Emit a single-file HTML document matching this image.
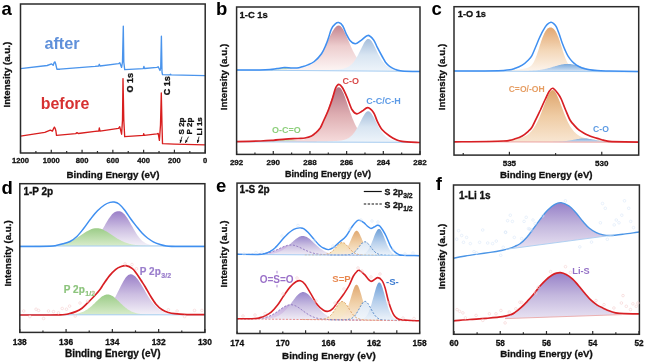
<!DOCTYPE html>
<html><head><meta charset="utf-8"><style>html,body{margin:0;padding:0;background:#fff;overflow:hidden}svg{display:block;will-change:transform}</style></head>
<body><svg width="646" height="363" viewBox="0 0 646 363"><defs><linearGradient id="gRedB" x1="0" y1="0" x2="0" y2="1"><stop offset="0" stop-color="#c4848e"/><stop offset="0.45" stop-color="#edcdce"/><stop offset="1" stop-color="#fdf6f5"/></linearGradient><linearGradient id="gRedB2" x1="0" y1="0" x2="0" y2="1"><stop offset="0" stop-color="#b27484"/><stop offset="0.5" stop-color="#deaeb2"/><stop offset="1" stop-color="#f6dcdc"/></linearGradient><linearGradient id="gBlueB" x1="0" y1="0" x2="0" y2="1"><stop offset="0" stop-color="#a6bedb"/><stop offset="0.5" stop-color="#d8e5f2"/><stop offset="1" stop-color="#eef4fa"/></linearGradient><linearGradient id="gGreen" x1="0" y1="0" x2="0" y2="1"><stop offset="0" stop-color="#a8d498"/><stop offset="1" stop-color="#e4f2dc"/></linearGradient><linearGradient id="gOrangeT" x1="0" y1="0" x2="0" y2="1"><stop offset="0" stop-color="#e2a670"/><stop offset="0.5" stop-color="#f3d6b6"/><stop offset="1" stop-color="#fdf5ee"/></linearGradient><linearGradient id="gOrangeB" x1="0" y1="0" x2="0" y2="1"><stop offset="0" stop-color="#dea46c"/><stop offset="0.5" stop-color="#efcca4"/><stop offset="1" stop-color="#f8e6d2"/></linearGradient><linearGradient id="gBlueC" x1="0" y1="0" x2="0" y2="1"><stop offset="0" stop-color="#78a8dc"/><stop offset="1" stop-color="#d8e6f5"/></linearGradient><linearGradient id="gPurpleD" x1="0" y1="0" x2="0" y2="1"><stop offset="0" stop-color="#9a7fc8"/><stop offset="0.5" stop-color="#cdbfe2"/><stop offset="1" stop-color="#f4f1f8"/></linearGradient><linearGradient id="gGreenD" x1="0" y1="0" x2="0" y2="1"><stop offset="0" stop-color="#9ccc88"/><stop offset="1" stop-color="#d8eccb"/></linearGradient><linearGradient id="gPurpleE" x1="0" y1="0" x2="0" y2="1"><stop offset="0" stop-color="#9886cc"/><stop offset="0.5" stop-color="#cbc0e2"/><stop offset="1" stop-color="#f2eef6"/></linearGradient><linearGradient id="gPurpleE2" x1="0" y1="0" x2="0" y2="1"><stop offset="0" stop-color="#c2aadd"/><stop offset="1" stop-color="#e2d4ee"/></linearGradient><linearGradient id="gOrangeE" x1="0" y1="0" x2="0" y2="1"><stop offset="0" stop-color="#e0a870"/><stop offset="0.5" stop-color="#f0d0a8"/><stop offset="1" stop-color="#faeedd"/></linearGradient><linearGradient id="gOrangeE2" x1="0" y1="0" x2="0" y2="1"><stop offset="0" stop-color="#f2d8a8"/><stop offset="1" stop-color="#f8ecd6"/></linearGradient><linearGradient id="gBlueE" x1="0" y1="0" x2="0" y2="1"><stop offset="0" stop-color="#6c9fd8"/><stop offset="0.5" stop-color="#b8d0ec"/><stop offset="1" stop-color="#eef4fa"/></linearGradient><linearGradient id="gBlueE2" x1="0" y1="0" x2="0" y2="1"><stop offset="0" stop-color="#dde8f4"/><stop offset="1" stop-color="#f2f6fb"/></linearGradient><linearGradient id="gPurpleF" x1="0" y1="0" x2="0" y2="1"><stop offset="0" stop-color="#9680c8"/><stop offset="0.5" stop-color="#c4b8de"/><stop offset="1" stop-color="#e8e2f2"/></linearGradient></defs><rect width="646" height="363" fill="#fff"/>
<text x="1.5" y="14.9" font-size="18.5" fill="#000" stroke="#000" stroke-width="0" text-anchor="start" font-family="Liberation Sans" font-weight="bold">a</text>
<path d="M20.5 68.6L47.2 65.5L51.6 63.9L53.2 65.3L54.3 62.3L55.0 61.9L55.7 64.0L56.9 69.2L60.0 69.2L95.0 66.4L98.7 66.0L99.3 64.3L100.0 66.0L118.5 63.7L119.8 62.7L121.6 67.4L122.5 62.0L123.3 26.1L123.8 62.0L124.7 69.6L143.3 68.6L143.9 66.4L144.5 68.5L156.9 67.4L158.2 66.8L160.0 70.5L160.7 68.0L161.4 36.2L162.0 72.0L162.5 74.6L170.0 74.8L170.5 74.2L171.0 74.8L205.0 75.6" fill="none" stroke="#4a94ec" stroke-width="1.35" stroke-linejoin="round"/>
<path d="M20.5 136.1L44.8 132.3L50.3 130.1L52.4 131.1L53.6 128.5L54.4 127.1L55.2 128.5L55.9 131.0L56.5 135.4L75.7 133.6L77.0 132.6L78.3 133.5L95.0 131.3L98.8 131.0L99.3 128.0L100.0 131.1L118.5 128.4L119.8 126.8L121.6 134.2L122.5 120.0L123.0 78.6L123.8 120.0L124.7 136.7L143.3 135.4L143.7 133.6L144.2 135.3L156.9 133.8L158.2 133.4L159.4 140.4L160.5 125.0L161.3 93.0L162.0 125.0L162.5 143.7L174.3 144.1L205.0 144.8" fill="none" stroke="#d81e1e" stroke-width="1.35" stroke-linejoin="round"/>
<text x="44.4" y="49.0" font-size="16" fill="#5f90da" stroke="#5f90da" stroke-width="0" text-anchor="start" font-family="Liberation Sans" font-weight="bold" textLength="35.2" lengthAdjust="spacingAndGlyphs">after</text>
<text x="40.8" y="109.0" font-size="16" fill="#d63131" stroke="#d63131" stroke-width="0" text-anchor="start" font-family="Liberation Sans" font-weight="bold" textLength="48.6" lengthAdjust="spacingAndGlyphs">before</text>
<text x="133.2" y="92.6" font-size="9" fill="#111" stroke="#111" stroke-width="0.3" text-anchor="start" font-family="Liberation Sans" font-weight="bold" transform="rotate(-90 133.2 92.6)">O 1s</text>
<text x="170.0" y="95.3" font-size="9" fill="#111" stroke="#111" stroke-width="0.3" text-anchor="start" font-family="Liberation Sans" font-weight="bold" transform="rotate(-90 170.0 95.3)">C 1s</text>
<text x="184.5" y="134.4" font-size="8.0" fill="#111" stroke="#111" stroke-width="0.3" text-anchor="start" font-family="Liberation Sans" font-weight="bold" transform="rotate(-90 184.5 134.4)">S 2p</text>
<text x="191.6" y="134.4" font-size="8.0" fill="#111" stroke="#111" stroke-width="0.3" text-anchor="start" font-family="Liberation Sans" font-weight="bold" transform="rotate(-90 191.6 134.4)">P 2p</text>
<text x="201.6" y="135.4" font-size="8.0" fill="#111" stroke="#111" stroke-width="0.3" text-anchor="start" font-family="Liberation Sans" font-weight="bold" transform="rotate(-90 201.6 135.4)">Li 1s</text>
<line x1="182.0" y1="136.6" x2="180.1" y2="143.0" stroke="#111" stroke-width="0.8"/>
<path d="M180.10,143.00L179.71,139.75L182.20,140.49Z" fill="#111"/>
<line x1="188.6" y1="136.6" x2="185.3" y2="143.0" stroke="#111" stroke-width="0.8"/>
<path d="M185.30,143.00L185.52,139.74L187.83,140.93Z" fill="#111"/>
<line x1="199.0" y1="136.6" x2="197.5" y2="143.0" stroke="#111" stroke-width="0.8"/>
<path d="M197.50,143.00L196.92,139.78L199.45,140.38Z" fill="#111"/>
<rect x="20.5" y="4.0" width="184.70" height="149.00" fill="none" stroke="#2b2b2b" stroke-width="1.5"/>
<line x1="20.50" y1="153.0" x2="20.50" y2="149.7" stroke="#2b2b2b" stroke-width="1.2"/>
<line x1="35.89" y1="153.0" x2="35.89" y2="151.0" stroke="#2b2b2b" stroke-width="1.2"/>
<line x1="51.28" y1="153.0" x2="51.28" y2="149.7" stroke="#2b2b2b" stroke-width="1.2"/>
<line x1="66.67" y1="153.0" x2="66.67" y2="151.0" stroke="#2b2b2b" stroke-width="1.2"/>
<line x1="82.07" y1="153.0" x2="82.07" y2="149.7" stroke="#2b2b2b" stroke-width="1.2"/>
<line x1="97.46" y1="153.0" x2="97.46" y2="151.0" stroke="#2b2b2b" stroke-width="1.2"/>
<line x1="112.85" y1="153.0" x2="112.85" y2="149.7" stroke="#2b2b2b" stroke-width="1.2"/>
<line x1="128.24" y1="153.0" x2="128.24" y2="151.0" stroke="#2b2b2b" stroke-width="1.2"/>
<line x1="143.63" y1="153.0" x2="143.63" y2="149.7" stroke="#2b2b2b" stroke-width="1.2"/>
<line x1="159.02" y1="153.0" x2="159.02" y2="151.0" stroke="#2b2b2b" stroke-width="1.2"/>
<line x1="174.42" y1="153.0" x2="174.42" y2="149.7" stroke="#2b2b2b" stroke-width="1.2"/>
<line x1="189.81" y1="153.0" x2="189.81" y2="151.0" stroke="#2b2b2b" stroke-width="1.2"/>
<line x1="205.20" y1="153.0" x2="205.20" y2="149.7" stroke="#2b2b2b" stroke-width="1.2"/>
<text x="20.50" y="163.0" font-size="7.6" fill="#111" stroke="#111" stroke-width="0.3" text-anchor="middle" font-family="Liberation Sans" font-weight="bold">1200</text>
<text x="51.28" y="163.0" font-size="7.6" fill="#111" stroke="#111" stroke-width="0.3" text-anchor="middle" font-family="Liberation Sans" font-weight="bold">1000</text>
<text x="82.07" y="163.0" font-size="7.6" fill="#111" stroke="#111" stroke-width="0.3" text-anchor="middle" font-family="Liberation Sans" font-weight="bold">800</text>
<text x="112.85" y="163.0" font-size="7.6" fill="#111" stroke="#111" stroke-width="0.3" text-anchor="middle" font-family="Liberation Sans" font-weight="bold">600</text>
<text x="143.63" y="163.0" font-size="7.6" fill="#111" stroke="#111" stroke-width="0.3" text-anchor="middle" font-family="Liberation Sans" font-weight="bold">400</text>
<text x="174.42" y="163.0" font-size="7.6" fill="#111" stroke="#111" stroke-width="0.3" text-anchor="middle" font-family="Liberation Sans" font-weight="bold">200</text>
<text x="205.20" y="163.0" font-size="7.6" fill="#111" stroke="#111" stroke-width="0.3" text-anchor="middle" font-family="Liberation Sans" font-weight="bold">0</text>
<text x="113" y="177.6" font-size="9.75" fill="#111" stroke="#111" stroke-width="0.3" text-anchor="middle" font-family="Liberation Sans" font-weight="bold">Binding Energy (eV)</text>
<text x="10.3" y="74.7" font-size="9.7" fill="#111" stroke="#111" stroke-width="0.3" text-anchor="middle" font-family="Liberation Sans" font-weight="bold" transform="rotate(-90 10.3 74.7)">Intensity (a.u.)</text>
<text x="216.0" y="14.8" font-size="18.5" fill="#000" stroke="#000" stroke-width="0" text-anchor="start" font-family="Liberation Sans" font-weight="bold">b</text>
<text x="239.6" y="18.0" font-size="9.4" fill="#111" stroke="#111" stroke-width="0.3" text-anchor="start" font-family="Liberation Sans" font-weight="bold">1-C 1s</text>
<path d="M260.0 70.2L260.7 70.2L261.5 70.2L262.2 70.2L263.0 70.2L263.7 70.2L264.5 70.1L265.2 70.1L266.0 70.1L266.7 70.1L267.5 70.0L268.2 70.0L269.0 69.9L269.7 69.9L270.4 69.8L271.2 69.7L271.9 69.6L272.7 69.5L273.4 69.4L274.2 69.3L274.9 69.2L275.7 69.1L276.4 69.0L277.2 68.9L277.9 68.8L278.7 68.7L279.4 68.6L280.1 68.5L280.9 68.4L281.6 68.3L282.4 68.2L283.1 68.2L283.9 68.2L284.6 68.1L285.4 68.1L286.1 68.2L286.9 68.2L287.6 68.3L288.4 68.3L289.1 68.4L289.9 68.5L290.6 68.6L291.3 68.8L292.1 68.9L292.8 69.0L293.6 69.1L294.3 69.3L295.1 69.4L295.8 69.5L296.6 69.6L297.3 69.7L298.1 69.8L298.8 69.9L299.6 70.0L300.3 70.1L301.0 70.1L301.8 70.2L302.5 70.3L303.3 70.3L304.0 70.4L304.8 70.4L305.5 70.4L306.3 70.5L307.0 70.5L307.8 70.5L308.5 70.5L309.3 70.5L310.0 70.6L310.0 70.6L260.0 70.3Z" fill="url(#gGreen)"/>
<path d="M266.2 69.6L267.0 69.6L267.7 69.6L268.5 69.6L269.2 69.6L270.0 69.6L270.7 69.6L271.5 69.5L272.2 69.5L273.0 69.5L273.7 69.5L274.5 69.5L275.2 69.5L276.0 69.5L276.7 69.4L277.5 69.4L278.2 69.4L279.0 69.4L279.7 69.4L280.5 69.4L281.2 69.3L282.0 69.3L282.7 69.3L283.5 69.3L284.2 69.2L285.0 69.2L285.7 69.2L286.5 69.2L287.2 69.1L288.0 69.1L288.7 69.1L289.5 69.0L290.2 69.0L291.0 68.9L291.7 68.9L292.5 68.8L293.2 68.8L294.0 68.7L294.8 68.7L295.5 68.6L296.3 68.6L297.0 68.5L297.8 68.4L298.5 68.3L299.3 68.2L300.0 68.1L300.8 68.0L301.5 67.9L302.3 67.7L303.0 67.6L303.8 67.4L304.5 67.2L305.3 67.0L306.0 66.8L306.8 66.6L307.5 66.3L308.3 66.0L309.0 65.6L309.8 65.3L310.5 64.8L311.3 64.4L312.0 63.9L312.8 63.4L313.5 62.8L314.3 62.1L315.0 61.4L315.8 60.7L316.5 59.8L317.3 59.0L318.0 58.0L318.8 57.0L319.5 56.0L320.3 54.9L321.0 53.7L321.8 52.4L322.6 51.1L323.3 49.8L324.1 48.3L324.8 46.9L325.6 45.4L326.3 43.9L327.1 42.3L327.8 40.8L328.6 39.2L329.3 37.7L330.1 36.1L330.8 34.6L331.6 33.2L332.3 31.8L333.1 30.6L333.8 29.4L334.6 28.3L335.3 27.4L336.1 26.7L336.8 26.1L337.6 25.7L338.3 25.5L339.1 25.6L339.8 25.8L340.6 26.3L341.3 27.0L342.1 28.0L342.8 29.1L343.6 30.3L344.3 31.8L345.1 33.3L345.8 34.9L346.6 36.6L347.3 38.3L348.1 40.1L348.9 41.8L349.6 43.6L350.4 45.3L351.1 47.0L351.9 48.6L352.6 50.2L353.4 51.7L354.1 53.1L354.9 54.5L355.6 55.8L356.4 57.0L357.1 58.2L357.9 59.2L358.6 60.2L359.4 61.1L360.1 62.0L360.9 62.7L361.6 63.4L362.4 64.1L363.1 64.6L363.9 65.2L364.6 65.6L365.4 66.1L366.1 66.5L366.9 66.8L367.6 67.1L368.4 67.4L369.1 67.6L369.9 67.9L370.6 68.1L371.4 68.2L372.1 68.4L372.9 68.6L373.6 68.7L374.4 68.8L375.1 68.9L375.9 69.0L376.7 69.1L377.4 69.2L378.2 69.3L378.9 69.4L379.7 69.4L380.4 69.5L381.2 69.6L381.9 69.6L382.7 69.7L383.4 69.7L384.2 69.8L384.9 69.8L385.7 69.9L386.4 69.9L387.2 69.9L387.9 70.0L388.7 70.0L389.4 70.1L390.2 70.1L390.9 70.1L391.7 70.2L392.4 70.2L393.2 70.2L393.9 70.3L394.7 70.3L395.4 70.3L396.2 70.3L396.9 70.4L397.7 70.4L398.4 70.4L399.2 70.5L399.9 70.5L400.7 70.5L401.4 70.5L402.2 70.5L402.9 70.6L403.7 70.6L403.7 71.3L266.2 70.3Z" fill="url(#gRedB)"/>
<path d="M316.9 70.2L317.7 70.2L318.4 70.2L319.2 70.1L319.9 70.1L320.7 70.1L321.4 70.1L322.2 70.1L322.9 70.1L323.7 70.1L324.4 70.1L325.2 70.0L325.9 70.0L326.7 70.0L327.4 70.0L328.2 70.0L328.9 69.9L329.7 69.9L330.4 69.9L331.2 69.9L331.9 69.8L332.7 69.8L333.4 69.8L334.2 69.7L334.9 69.7L335.7 69.6L336.4 69.6L337.2 69.5L338.0 69.5L338.7 69.4L339.5 69.3L340.2 69.2L341.0 69.1L341.7 69.0L342.5 68.9L343.2 68.7L344.0 68.5L344.7 68.3L345.5 68.1L346.2 67.8L347.0 67.5L347.7 67.1L348.5 66.7L349.2 66.3L350.0 65.7L350.7 65.1L351.5 64.5L352.2 63.7L353.0 62.9L353.7 61.9L354.5 60.9L355.2 59.8L356.0 58.6L356.7 57.3L357.5 56.0L358.3 54.6L359.0 53.1L359.8 51.6L360.5 50.0L361.3 48.4L362.0 46.9L362.8 45.4L363.5 44.0L364.3 42.6L365.0 41.5L365.8 40.5L366.5 39.7L367.3 39.1L368.0 38.9L368.8 38.9L369.5 39.2L370.3 39.7L371.0 40.5L371.8 41.5L372.5 42.7L373.3 44.0L374.0 45.5L374.8 47.0L375.5 48.5L376.3 50.1L377.0 51.7L377.8 53.2L378.5 54.7L379.3 56.1L380.1 57.5L380.8 58.8L381.6 60.0L382.3 61.1L383.1 62.1L383.8 63.1L384.6 63.9L385.3 64.7L386.1 65.4L386.8 66.0L387.6 66.5L388.3 67.0L389.1 67.4L389.8 67.8L390.6 68.1L391.3 68.4L392.1 68.7L392.8 68.9L393.6 69.1L394.3 69.2L395.1 69.4L395.8 69.5L396.6 69.6L397.3 69.7L398.1 69.8L398.8 69.9L399.6 70.0L400.4 70.0L401.1 70.1L401.9 70.1L402.6 70.2L403.4 70.2L404.1 70.3L404.9 70.3L405.6 70.4L406.4 70.4L407.1 70.5L407.9 70.5L408.6 70.5L409.4 70.6L410.1 70.6L410.9 70.6L411.6 70.6L412.4 70.7L413.1 70.7L413.9 70.7L414.6 70.8L415.4 70.8L416.1 70.8L416.9 70.8L417.6 70.8L418.4 70.9L419.1 70.9L419.9 70.9L419.9 71.4L316.9 70.7Z" fill="url(#gBlueB)"/>
<path d="M236.6 70.1L420 71.4" fill="none" stroke="#a6cdf2" stroke-width="1"/>
<path d="M236.6 70.0C240.5 70.0 254.4 70.1 260.0 70.0C265.6 69.9 267.2 69.8 270.0 69.6C272.8 69.4 274.6 68.9 277.0 68.6C279.4 68.3 282.1 67.7 284.4 67.6C286.7 67.5 288.9 67.9 291.0 68.0C293.1 68.1 295.2 68.2 297.0 68.0C298.8 67.8 300.3 67.3 302.0 66.8C303.7 66.3 305.1 66.0 307.2 65.1C309.2 64.2 311.9 63.4 314.3 61.5C316.7 59.6 319.6 56.4 321.5 53.7C323.4 51.0 324.6 47.9 325.8 45.1C327.0 42.4 327.8 39.9 328.7 37.2C329.6 34.5 330.4 31.0 331.5 28.8C332.6 26.6 334.1 24.8 335.3 23.8C336.5 22.8 337.6 22.2 338.8 22.6C340.1 23.0 341.6 24.1 342.8 26.0C344.0 27.9 345.0 31.4 346.2 33.8C347.4 36.2 348.5 38.8 350.0 40.5C351.5 42.2 353.4 43.8 355.3 43.8C357.2 43.8 359.0 41.7 361.1 40.3C363.2 38.9 365.8 35.5 367.9 35.4C370.0 35.3 371.9 37.7 373.5 39.7C375.1 41.7 375.8 44.4 377.2 47.2C378.6 50.0 380.8 54.0 382.2 56.5C383.6 59.0 384.3 60.6 385.5 62.3C386.7 63.9 387.9 65.2 389.6 66.4C391.3 67.6 393.7 68.8 395.8 69.6C397.9 70.3 398.0 70.6 402.0 70.9C406.0 71.2 417.0 71.5 420.0 71.6" fill="none" stroke="#3f8ff0" stroke-width="1.55" stroke-linejoin="round"/>
<path d="M236.6 141.8L237.3 141.8L238.1 141.8L238.8 141.8L239.6 141.8L240.3 141.8L241.1 141.8L241.8 141.8L242.6 141.8L243.3 141.8L244.1 141.8L244.8 141.8L245.6 141.8L246.3 141.8L247.1 141.8L247.8 141.8L248.6 141.8L249.3 141.8L250.1 141.8L250.8 141.8L251.6 141.8L252.3 141.8L253.0 141.8L253.8 141.8L254.5 141.8L255.3 141.8L256.0 141.8L256.8 141.7L257.5 141.7L258.3 141.7L259.0 141.7L259.8 141.7L260.5 141.7L261.3 141.7L262.0 141.7L262.8 141.7L263.5 141.6L264.3 141.6L265.0 141.6L265.8 141.6L266.5 141.5L267.3 141.5L268.0 141.4L268.7 141.4L269.5 141.3L270.2 141.3L271.0 141.2L271.7 141.1L272.5 141.1L273.2 141.0L274.0 140.9L274.7 140.8L275.5 140.7L276.2 140.6L277.0 140.5L277.7 140.4L278.5 140.3L279.2 140.2L280.0 140.1L280.7 140.0L281.5 139.9L282.2 139.8L283.0 139.7L283.7 139.6L284.4 139.5L285.2 139.5L285.9 139.4L286.7 139.4L287.4 139.4L288.2 139.4L288.9 139.4L289.7 139.4L290.4 139.5L291.2 139.5L291.9 139.6L292.7 139.7L293.4 139.8L294.2 139.9L294.9 140.0L295.7 140.1L296.4 140.2L297.2 140.3L297.9 140.4L298.7 140.5L299.4 140.6L300.2 140.7L300.9 140.8L301.6 140.9L302.4 141.0L303.1 141.1L303.9 141.2L304.6 141.3L305.4 141.3L306.1 141.4L306.9 141.5L307.6 141.5L308.4 141.6L309.1 141.6L309.9 141.7L310.6 141.7L311.4 141.8L312.1 141.8L312.9 141.8L313.6 141.8L314.4 141.9L315.1 141.9L315.9 141.9L316.6 141.9L317.3 141.9L318.1 141.9L318.8 141.9L319.6 142.0L320.3 142.0L321.1 142.0L321.8 142.0L322.6 142.0L323.3 142.0L324.1 142.0L324.8 142.0L325.6 142.0L326.3 142.0L327.1 142.0L327.8 142.0L328.6 142.0L329.3 142.0L330.1 142.0L330.8 142.1L331.6 142.1L332.3 142.1L333.0 142.1L333.8 142.1L334.5 142.1L335.3 142.1L336.0 142.1L336.8 142.1L337.5 142.1L338.3 142.1L339.0 142.1L339.8 142.1L340.5 142.1L341.3 142.1L342.0 142.1L342.8 142.1L343.5 142.1L344.3 142.1L345.0 142.1L345.8 142.1L346.5 142.1L347.3 142.1L348.0 142.1L348.0 142.2L236.6 141.8Z" fill="url(#gGreen)"/>
<path d="M276.1 141.1L276.8 141.1L277.6 141.0L278.3 141.0L279.1 141.0L279.8 141.0L280.6 141.0L281.3 140.9L282.1 140.9L282.8 140.9L283.6 140.9L284.3 140.8L285.1 140.8L285.8 140.8L286.6 140.8L287.3 140.7L288.1 140.7L288.8 140.7L289.6 140.6L290.3 140.6L291.1 140.6L291.8 140.5L292.6 140.5L293.3 140.4L294.1 140.4L294.8 140.3L295.6 140.3L296.3 140.2L297.1 140.2L297.8 140.1L298.6 140.0L299.3 139.9L300.1 139.9L300.8 139.8L301.5 139.7L302.3 139.6L303.0 139.5L303.8 139.4L304.5 139.2L305.3 139.1L306.0 138.9L306.8 138.7L307.5 138.5L308.3 138.3L309.0 138.0L309.8 137.7L310.5 137.4L311.3 137.0L312.0 136.6L312.8 136.2L313.5 135.6L314.3 135.1L315.0 134.4L315.8 133.7L316.5 132.9L317.3 132.1L318.0 131.1L318.8 130.1L319.5 128.9L320.3 127.7L321.0 126.3L321.8 124.9L322.5 123.3L323.3 121.7L324.0 120.0L324.8 118.1L325.5 116.2L326.2 114.2L327.0 112.1L327.7 110.0L328.5 107.8L329.2 105.6L330.0 103.4L330.7 101.3L331.5 99.1L332.2 97.1L333.0 95.1L333.7 93.3L334.5 91.7L335.2 90.2L336.0 89.0L336.7 88.1L337.5 87.5L338.2 87.2L339.0 87.2L339.7 87.5L340.5 88.1L341.2 89.1L342.0 90.3L342.7 91.7L343.5 93.3L344.2 95.2L345.0 97.1L345.7 99.2L346.5 101.3L347.2 103.5L348.0 105.7L348.7 107.9L349.5 110.1L350.2 112.2L351.0 114.3L351.7 116.3L352.4 118.2L353.2 120.0L353.9 121.8L354.7 123.4L355.4 125.0L356.2 126.4L356.9 127.8L357.7 129.0L358.4 130.2L359.2 131.2L359.9 132.2L360.7 133.1L361.4 133.9L362.2 134.6L362.9 135.2L363.7 135.8L364.4 136.3L365.2 136.8L365.9 137.2L366.7 137.6L367.4 137.9L368.2 138.2L368.9 138.5L369.7 138.7L370.4 138.9L371.2 139.1L371.9 139.3L372.7 139.4L373.4 139.6L374.2 139.7L374.9 139.8L375.7 139.9L376.4 140.0L377.1 140.1L377.9 140.2L378.6 140.3L379.4 140.4L380.1 140.4L380.9 140.5L381.6 140.6L382.4 140.6L383.1 140.7L383.9 140.7L384.6 140.8L385.4 140.8L386.1 140.9L386.9 140.9L387.6 141.0L388.4 141.0L389.1 141.0L389.9 141.1L390.6 141.1L391.4 141.1L392.1 141.2L392.9 141.2L393.6 141.2L394.4 141.3L395.1 141.3L395.9 141.3L396.6 141.3L397.4 141.4L398.1 141.4L398.9 141.4L399.6 141.4L400.4 141.5L401.1 141.5L401.1 142.3L276.1 141.9Z" fill="url(#gRedB2)"/>
<path d="M316.7 141.6L317.5 141.6L318.2 141.6L319.0 141.5L319.7 141.5L320.5 141.5L321.2 141.5L322.0 141.5L322.7 141.5L323.5 141.5L324.2 141.4L325.0 141.4L325.7 141.4L326.5 141.4L327.2 141.4L328.0 141.3L328.7 141.3L329.5 141.3L330.2 141.3L331.0 141.2L331.7 141.2L332.5 141.2L333.2 141.1L334.0 141.1L334.7 141.0L335.5 141.0L336.2 140.9L337.0 140.9L337.8 140.8L338.5 140.7L339.3 140.7L340.0 140.6L340.8 140.5L341.5 140.4L342.3 140.2L343.0 140.1L343.8 139.9L344.5 139.7L345.3 139.5L346.0 139.2L346.8 138.9L347.5 138.6L348.3 138.2L349.0 137.7L349.8 137.2L350.5 136.6L351.3 136.0L352.0 135.2L352.8 134.4L353.5 133.5L354.3 132.5L355.0 131.5L355.8 130.3L356.5 129.1L357.3 127.8L358.1 126.4L358.8 125.0L359.6 123.5L360.3 122.0L361.1 120.5L361.8 119.0L362.6 117.6L363.3 116.2L364.1 114.9L364.8 113.8L365.6 112.8L366.3 112.0L367.1 111.5L367.8 111.3L368.6 111.3L369.3 111.5L370.1 112.1L370.8 112.8L371.6 113.8L372.3 114.9L373.1 116.2L373.8 117.6L374.6 119.1L375.3 120.6L376.1 122.1L376.8 123.6L377.6 125.0L378.3 126.5L379.1 127.9L379.9 129.2L380.6 130.4L381.4 131.6L382.1 132.6L382.9 133.6L383.6 134.5L384.4 135.3L385.1 136.1L385.9 136.7L386.6 137.3L387.4 137.8L388.1 138.3L388.9 138.7L389.6 139.0L390.4 139.4L391.1 139.6L391.9 139.9L392.6 140.1L393.4 140.2L394.1 140.4L394.9 140.5L395.6 140.7L396.4 140.8L397.1 140.9L397.9 140.9L398.6 141.0L399.4 141.1L400.2 141.1L400.9 141.2L401.7 141.3L402.4 141.3L403.2 141.3L403.9 141.4L404.7 141.4L405.4 141.5L406.2 141.5L406.9 141.5L407.7 141.6L408.4 141.6L409.2 141.6L409.9 141.7L410.7 141.7L411.4 141.7L412.2 141.7L412.9 141.8L413.7 141.8L414.4 141.8L415.2 141.8L415.9 141.8L416.7 141.9L417.4 141.9L418.2 141.9L418.9 141.9L419.7 141.9L419.7 142.4L316.7 142.1Z" fill="url(#gBlueB)"/>
<path d="M236.6 141.8L420 142.4" fill="none" stroke="#a6cdf2" stroke-width="1"/>
<path d="M236.6 141.6C240.6 141.5 254.7 141.2 260.8 141.0C266.9 140.8 269.1 140.6 273.2 140.3C277.3 140.0 281.5 139.4 285.6 139.1C289.7 138.8 294.8 138.7 298.0 138.5C301.2 138.3 302.7 138.4 305.0 138.0C307.3 137.6 309.8 136.9 311.6 136.0C313.4 135.1 314.6 133.9 316.0 132.6C317.4 131.3 318.9 129.9 320.2 128.0C321.4 126.1 322.1 124.0 323.5 121.0C324.9 118.0 326.9 113.7 328.4 110.0C329.9 106.3 331.1 102.7 332.3 99.0C333.5 95.3 334.5 90.4 335.6 88.0C336.7 85.6 337.8 84.5 338.9 84.4C340.0 84.3 340.9 85.3 342.3 87.5C343.7 89.7 345.5 93.7 347.1 97.4C348.7 101.1 350.5 107.1 352.1 109.8C353.7 112.5 355.1 113.6 356.8 113.8C358.5 114.0 360.4 112.1 362.2 111.1C364.0 110.1 365.9 107.4 367.8 107.6C369.7 107.8 371.9 110.2 373.5 112.4C375.1 114.7 375.8 118.2 377.2 121.1C378.6 124.0 380.1 127.3 382.2 129.8C384.3 132.3 387.3 134.4 389.6 136.0C391.9 137.6 393.7 138.6 395.8 139.5C397.9 140.4 398.0 140.8 402.0 141.3C406.0 141.8 417.0 142.3 420.0 142.5" fill="none" stroke="#d81f24" stroke-width="1.7" stroke-linejoin="round"/>
<text x="350.8" y="83.8" font-size="9.0" fill="#d84848" stroke="#d84848" stroke-width="0" text-anchor="middle" font-family="Liberation Sans" font-weight="bold">C-O</text>
<text x="383.6" y="103.8" font-size="9.0" fill="#5c9ae6" stroke="#5c9ae6" stroke-width="0" text-anchor="middle" font-family="Liberation Sans" font-weight="bold">C-C/C-H</text>
<text x="286.4" y="133.2" font-size="9.0" fill="#8ccf7a" stroke="#8ccf7a" stroke-width="0" text-anchor="middle" font-family="Liberation Sans" font-weight="bold">O-C=O</text>
<rect x="236.6" y="7.0" width="183.40" height="147.40" fill="none" stroke="#2b2b2b" stroke-width="1.5"/>
<line x1="236.60" y1="154.4" x2="236.60" y2="151.1" stroke="#2b2b2b" stroke-width="1.2"/>
<line x1="254.94" y1="154.4" x2="254.94" y2="152.4" stroke="#2b2b2b" stroke-width="1.2"/>
<line x1="273.28" y1="154.4" x2="273.28" y2="151.1" stroke="#2b2b2b" stroke-width="1.2"/>
<line x1="291.62" y1="154.4" x2="291.62" y2="152.4" stroke="#2b2b2b" stroke-width="1.2"/>
<line x1="309.96" y1="154.4" x2="309.96" y2="151.1" stroke="#2b2b2b" stroke-width="1.2"/>
<line x1="328.30" y1="154.4" x2="328.30" y2="152.4" stroke="#2b2b2b" stroke-width="1.2"/>
<line x1="346.64" y1="154.4" x2="346.64" y2="151.1" stroke="#2b2b2b" stroke-width="1.2"/>
<line x1="364.98" y1="154.4" x2="364.98" y2="152.4" stroke="#2b2b2b" stroke-width="1.2"/>
<line x1="383.32" y1="154.4" x2="383.32" y2="151.1" stroke="#2b2b2b" stroke-width="1.2"/>
<line x1="401.66" y1="154.4" x2="401.66" y2="152.4" stroke="#2b2b2b" stroke-width="1.2"/>
<line x1="420.00" y1="154.4" x2="420.00" y2="151.1" stroke="#2b2b2b" stroke-width="1.2"/>
<text x="236.60" y="165.0" font-size="8.0" fill="#111" stroke="#111" stroke-width="0.3" text-anchor="middle" font-family="Liberation Sans" font-weight="bold">292</text>
<text x="273.28" y="165.0" font-size="8.0" fill="#111" stroke="#111" stroke-width="0.3" text-anchor="middle" font-family="Liberation Sans" font-weight="bold">290</text>
<text x="309.96" y="165.0" font-size="8.0" fill="#111" stroke="#111" stroke-width="0.3" text-anchor="middle" font-family="Liberation Sans" font-weight="bold">288</text>
<text x="346.64" y="165.0" font-size="8.0" fill="#111" stroke="#111" stroke-width="0.3" text-anchor="middle" font-family="Liberation Sans" font-weight="bold">286</text>
<text x="383.32" y="165.0" font-size="8.0" fill="#111" stroke="#111" stroke-width="0.3" text-anchor="middle" font-family="Liberation Sans" font-weight="bold">284</text>
<text x="420.00" y="165.0" font-size="8.0" fill="#111" stroke="#111" stroke-width="0.3" text-anchor="middle" font-family="Liberation Sans" font-weight="bold">282</text>
<text x="327.9" y="176.5" font-size="9.0" fill="#111" stroke="#111" stroke-width="0.3" text-anchor="middle" font-family="Liberation Sans" font-weight="bold">Binding Energy (eV)</text>
<text x="227.4" y="77.0" font-size="9.8" fill="#111" stroke="#111" stroke-width="0.3" text-anchor="middle" font-family="Liberation Sans" font-weight="bold" transform="rotate(-90 227.4 77.0)">Intensity (a.u.)</text>
<text x="431.5" y="15.1" font-size="18.5" fill="#000" stroke="#000" stroke-width="0" text-anchor="start" font-family="Liberation Sans" font-weight="bold">c</text>
<text x="457.8" y="17.3" font-size="9.2" fill="#111" stroke="#111" stroke-width="0.3" text-anchor="start" font-family="Liberation Sans" font-weight="bold">1-O 1s</text>
<path d="M491.0 70.6L491.7 70.6L492.5 70.5L493.2 70.5L494.0 70.5L494.7 70.5L495.5 70.5L496.2 70.5L497.0 70.5L497.7 70.4L498.5 70.4L499.2 70.4L500.0 70.4L500.7 70.4L501.5 70.3L502.2 70.3L503.0 70.3L503.7 70.3L504.5 70.3L505.2 70.2L506.0 70.2L506.7 70.2L507.5 70.1L508.2 70.1L509.0 70.1L509.7 70.0L510.5 70.0L511.2 70.0L512.0 69.9L512.7 69.9L513.5 69.8L514.2 69.8L514.9 69.7L515.7 69.7L516.4 69.6L517.2 69.5L517.9 69.5L518.7 69.4L519.4 69.3L520.2 69.2L520.9 69.1L521.7 69.0L522.4 68.9L523.2 68.8L523.9 68.7L524.7 68.6L525.4 68.4L526.2 68.3L526.9 68.1L527.7 67.8L528.4 67.5L529.2 67.1L529.9 66.7L530.7 66.1L531.4 65.4L532.2 64.5L532.9 63.5L533.7 62.2L534.4 60.8L535.2 59.1L535.9 57.2L536.7 55.2L537.4 53.0L538.2 50.8L538.9 48.4L539.6 46.1L540.4 43.7L541.1 41.4L541.9 39.3L542.6 37.2L543.4 35.4L544.1 33.7L544.9 32.2L545.6 30.9L546.4 29.9L547.1 29.0L547.9 28.3L548.6 27.9L549.4 27.6L550.1 27.4L550.9 27.4L551.6 27.6L552.4 27.9L553.1 28.4L553.9 29.0L554.6 29.9L555.4 31.0L556.1 32.3L556.9 33.7L557.6 35.4L558.4 37.3L559.1 39.3L559.9 41.5L560.6 43.8L561.4 46.2L562.1 48.5L562.8 50.9L563.6 53.2L564.3 55.3L565.1 57.4L565.8 59.2L566.6 60.9L567.3 62.4L568.1 63.6L568.8 64.7L569.6 65.6L570.3 66.3L571.1 66.9L571.8 67.3L572.6 67.7L573.3 68.0L574.1 68.3L574.8 68.5L575.6 68.7L576.3 68.8L577.1 68.9L577.8 69.1L578.6 69.2L579.3 69.3L580.1 69.4L580.8 69.5L581.6 69.6L582.3 69.7L583.1 69.7L583.8 69.8L584.6 69.9L585.3 70.0L586.1 70.0L586.8 70.1L587.5 70.1L588.3 70.2L589.0 70.2L589.8 70.3L590.5 70.3L591.3 70.4L592.0 70.4L592.8 70.5L593.5 70.5L594.3 70.5L595.0 70.6L595.8 70.6L596.5 70.7L597.3 70.7L598.0 70.7L598.8 70.7L599.5 70.8L600.3 70.8L601.0 70.8L601.8 70.9L602.5 70.9L603.3 70.9L604.0 70.9L604.8 70.9L605.5 71.0L606.3 71.0L607.0 71.0L607.8 71.0L608.5 71.0L609.3 71.1L610.0 71.1L610.0 71.7L491.0 71.2Z" fill="url(#gOrangeT)"/>
<path d="M523.3 71.0L524.0 71.0L524.8 71.0L525.5 71.0L526.3 70.9L527.0 70.9L527.8 70.9L528.5 70.9L529.3 70.8L530.0 70.8L530.8 70.8L531.5 70.7L532.3 70.7L533.0 70.6L533.8 70.6L534.5 70.5L535.3 70.5L536.0 70.4L536.8 70.3L537.5 70.2L538.3 70.1L539.0 70.1L539.8 69.9L540.5 69.8L541.3 69.7L542.0 69.6L542.8 69.5L543.5 69.3L544.3 69.2L545.0 69.0L545.8 68.8L546.5 68.7L547.3 68.5L548.0 68.3L548.8 68.1L549.5 67.9L550.3 67.7L551.0 67.5L551.8 67.3L552.5 67.0L553.3 66.8L554.0 66.6L554.8 66.4L555.5 66.1L556.3 65.9L557.0 65.7L557.8 65.5L558.5 65.3L559.3 65.1L560.0 64.9L560.8 64.7L561.5 64.5L562.3 64.4L563.0 64.3L563.8 64.2L564.5 64.1L565.3 64.0L566.0 63.9L566.8 63.9L567.5 63.9L568.2 63.9L569.0 63.9L569.7 64.0L570.5 64.1L571.2 64.2L572.0 64.3L572.7 64.4L573.5 64.6L574.2 64.8L575.0 65.0L575.7 65.1L576.5 65.4L577.2 65.6L578.0 65.8L578.7 66.0L579.5 66.2L580.2 66.5L581.0 66.7L581.7 66.9L582.5 67.2L583.2 67.4L584.0 67.6L584.7 67.8L585.5 68.0L586.2 68.3L587.0 68.5L587.7 68.7L588.5 68.8L589.2 69.0L590.0 69.2L590.7 69.4L591.5 69.5L592.2 69.7L593.0 69.8L593.7 69.9L594.5 70.1L595.2 70.2L596.0 70.3L596.7 70.4L597.5 70.5L598.2 70.6L599.0 70.7L599.7 70.7L600.5 70.8L601.2 70.9L602.0 70.9L602.7 71.0L603.5 71.0L604.2 71.1L605.0 71.1L605.7 71.2L606.5 71.2L607.2 71.2L608.0 71.3L608.7 71.3L609.5 71.3L610.2 71.3L611.0 71.4L611.7 71.4L611.7 71.7L523.3 71.3Z" fill="url(#gBlueC)"/>
<path d="M454 71.0L638.7 71.8" fill="none" stroke="#a6cdf2" stroke-width="1"/>
<path d="M454.0 71.0C462.3 70.9 493.3 70.9 503.6 70.4C513.9 69.9 512.9 68.9 516.0 68.0C519.1 67.1 520.1 66.5 522.2 65.2C524.3 63.9 526.8 61.6 528.4 60.0C530.0 58.4 530.8 57.6 531.9 55.6C533.0 53.6 534.1 50.6 535.2 48.0C536.3 45.4 537.6 42.2 538.6 39.8C539.6 37.4 540.5 35.5 541.5 33.6C542.5 31.7 543.4 29.8 544.4 28.3C545.4 26.8 546.2 25.4 547.3 24.4C548.4 23.4 549.8 22.4 550.9 22.3C552.0 22.2 552.8 22.8 553.7 23.6C554.6 24.4 555.6 25.4 556.5 27.2C557.4 29.0 558.3 31.7 559.3 34.3C560.2 36.9 561.2 40.3 562.2 42.9C563.2 45.5 564.2 48.0 565.1 50.1C566.0 52.2 566.7 53.9 567.9 55.8C569.1 57.7 570.8 60.0 572.2 61.5C573.6 63.0 574.8 64.0 576.5 65.1C578.2 66.2 580.3 67.3 582.2 68.0C584.1 68.7 585.5 69.0 588.0 69.4C590.5 69.8 593.6 70.2 597.2 70.5C600.8 70.8 602.7 70.8 609.6 71.0C616.5 71.2 633.9 71.5 638.7 71.6" fill="none" stroke="#3f8ff0" stroke-width="1.5" stroke-linejoin="round"/>
<path d="M477.0 141.1L477.7 141.1L478.5 141.0L479.2 141.0L480.0 141.0L480.7 141.0L481.5 141.0L482.2 141.0L483.0 141.0L483.7 140.9L484.5 140.9L485.2 140.9L486.0 140.9L486.7 140.9L487.5 140.8L488.2 140.8L489.0 140.8L489.7 140.8L490.5 140.7L491.2 140.7L492.0 140.7L492.7 140.7L493.5 140.6L494.2 140.6L495.0 140.6L495.7 140.6L496.5 140.5L497.2 140.5L498.0 140.5L498.7 140.4L499.5 140.4L500.2 140.3L501.0 140.3L501.7 140.3L502.4 140.2L503.2 140.2L503.9 140.1L504.7 140.1L505.4 140.0L506.2 139.9L506.9 139.9L507.7 139.8L508.4 139.8L509.2 139.7L509.9 139.6L510.7 139.5L511.4 139.5L512.2 139.4L512.9 139.3L513.7 139.2L514.4 139.1L515.2 139.0L515.9 138.8L516.7 138.7L517.4 138.6L518.2 138.4L518.9 138.3L519.7 138.1L520.4 137.9L521.2 137.7L521.9 137.4L522.7 137.2L523.4 136.9L524.2 136.6L524.9 136.2L525.7 135.8L526.4 135.4L527.2 134.9L527.9 134.4L528.6 133.9L529.4 133.2L530.1 132.5L530.9 131.8L531.6 130.9L532.4 130.0L533.1 129.0L533.9 128.0L534.6 126.8L535.4 125.6L536.1 124.3L536.9 122.8L537.6 121.3L538.4 119.7L539.1 118.0L539.9 116.3L540.6 114.5L541.4 112.6L542.1 110.6L542.9 108.6L543.6 106.6L544.4 104.5L545.1 102.5L545.9 100.6L546.6 98.7L547.4 96.9L548.1 95.2L548.9 93.7L549.6 92.4L550.4 91.4L551.1 90.6L551.9 90.2L552.6 90.0L553.3 90.2L554.1 90.6L554.8 91.4L555.6 92.4L556.3 93.7L557.1 95.2L557.8 96.9L558.6 98.7L559.3 100.6L560.1 102.6L560.8 104.6L561.6 106.6L562.3 108.6L563.1 110.6L563.8 112.6L564.6 114.5L565.3 116.3L566.1 118.1L566.8 119.8L567.6 121.4L568.3 122.9L569.1 124.3L569.8 125.7L570.6 126.9L571.3 128.1L572.1 129.1L572.8 130.1L573.6 131.0L574.3 131.9L575.1 132.6L575.8 133.3L576.6 134.0L577.3 134.5L578.0 135.1L578.8 135.5L579.5 136.0L580.3 136.3L581.0 136.7L581.8 137.0L582.5 137.3L583.3 137.6L584.0 137.8L584.8 138.0L585.5 138.2L586.3 138.4L587.0 138.6L587.8 138.7L588.5 138.9L589.3 139.0L590.0 139.1L590.8 139.2L591.5 139.4L592.3 139.5L593.0 139.5L593.8 139.6L594.5 139.7L595.3 139.8L596.0 139.9L596.8 140.0L597.5 140.0L598.3 140.1L599.0 140.1L599.8 140.2L600.5 140.3L601.3 140.3L602.0 140.4L602.8 140.4L603.5 140.5L604.2 140.5L605.0 140.6L605.7 140.6L606.5 140.6L607.2 140.7L608.0 140.7L608.7 140.8L609.5 140.8L610.2 140.8L611.0 140.9L611.7 140.9L612.5 140.9L613.2 141.0L614.0 141.0L614.7 141.0L615.5 141.0L616.2 141.1L617.0 141.1L617.7 141.1L618.5 141.1L619.2 141.2L620.0 141.2L620.7 141.2L621.5 141.2L622.2 141.3L623.0 141.3L623.7 141.3L624.5 141.3L625.2 141.3L626.0 141.4L626.7 141.4L627.5 141.4L628.2 141.4L628.2 142.2L477.0 141.8Z" fill="url(#gOrangeB)"/>
<path d="M550.2 141.9L551.0 141.9L551.7 141.9L552.5 141.9L553.2 141.8L554.0 141.8L554.7 141.8L555.5 141.8L556.2 141.8L557.0 141.7L557.7 141.7L558.5 141.7L559.2 141.6L560.0 141.6L560.7 141.5L561.5 141.5L562.2 141.4L563.0 141.4L563.7 141.3L564.5 141.2L565.2 141.1L566.0 141.0L566.7 140.9L567.5 140.8L568.2 140.7L569.0 140.6L569.7 140.5L570.5 140.3L571.2 140.2L572.0 140.1L572.7 139.9L573.5 139.8L574.2 139.7L575.0 139.5L575.7 139.4L576.5 139.2L577.2 139.1L578.0 139.0L578.7 138.9L579.5 138.8L580.2 138.7L581.0 138.6L581.7 138.6L582.5 138.5L583.2 138.5L584.0 138.5L584.8 138.5L585.5 138.5L586.3 138.6L587.0 138.6L587.8 138.7L588.5 138.8L589.3 138.9L590.0 139.0L590.8 139.1L591.5 139.3L592.3 139.4L593.0 139.6L593.8 139.7L594.5 139.8L595.3 140.0L596.0 140.1L596.8 140.3L597.5 140.4L598.3 140.5L599.0 140.7L599.8 140.8L600.5 140.9L601.3 141.0L602.0 141.1L602.8 141.2L603.5 141.3L604.3 141.4L605.0 141.5L605.8 141.5L606.5 141.6L607.3 141.6L608.0 141.7L608.8 141.7L609.5 141.8L610.3 141.8L611.0 141.9L611.8 141.9L612.5 141.9L613.3 141.9L614.0 142.0L614.8 142.0L615.5 142.0L616.3 142.0L617.0 142.0L617.8 142.0L617.8 142.2L550.2 142.0Z" fill="url(#gBlueC)"/>
<path d="M454 141.8L638.7 142.2" fill="none" stroke="#eca4a4" stroke-width="1"/>
<path d="M454.0 141.8C462.3 141.7 493.3 141.6 503.6 141.0C513.9 140.4 512.9 139.3 516.0 138.5C519.1 137.7 520.1 137.2 522.2 136.0C524.3 134.8 526.8 132.6 528.4 131.2C530.0 129.8 530.5 129.4 531.6 127.8C532.7 126.2 533.4 124.3 534.9 121.3C536.4 118.3 538.6 113.7 540.4 110.0C542.1 106.3 543.9 102.1 545.4 99.0C546.9 95.9 548.0 93.1 549.2 91.3C550.5 89.5 551.5 87.9 552.9 88.3C554.3 88.7 556.5 91.7 557.9 93.5C559.3 95.3 559.9 96.2 561.2 99.0C562.5 101.8 564.1 106.5 565.6 110.0C567.1 113.5 568.5 117.4 570.0 120.0C571.5 122.6 573.0 123.9 574.5 125.6C576.0 127.3 577.6 129.0 579.1 130.2C580.6 131.4 582.1 132.1 583.6 132.9C585.1 133.7 586.7 134.5 588.2 135.2C589.7 135.9 591.2 136.5 592.7 137.0C594.2 137.5 595.8 138.0 597.3 138.4C598.8 138.8 600.3 139.3 601.8 139.7C603.3 140.1 604.7 140.6 606.4 140.9C608.1 141.2 606.6 141.4 612.0 141.6C617.4 141.8 634.2 142.1 638.7 142.2" fill="none" stroke="#d81f24" stroke-width="1.7" stroke-linejoin="round"/>
<text x="526.7" y="92.2" font-size="8.6" fill="#e69d62" stroke="#e69d62" stroke-width="0" text-anchor="middle" font-family="Liberation Sans" font-weight="bold">C=O/-OH</text>
<text x="601.0" y="131.7" font-size="8.6" fill="#5c9ae3" stroke="#5c9ae3" stroke-width="0" text-anchor="middle" font-family="Liberation Sans" font-weight="bold">C-O</text>
<rect x="454.0" y="6.7" width="184.70" height="148.40" fill="none" stroke="#2b2b2b" stroke-width="1.5"/>
<line x1="509.41" y1="155.1" x2="509.41" y2="151.79999999999998" stroke="#2b2b2b" stroke-width="1.2"/>
<line x1="601.76" y1="155.1" x2="601.76" y2="151.79999999999998" stroke="#2b2b2b" stroke-width="1.2"/>
<line x1="463.24" y1="155.1" x2="463.24" y2="153.1" stroke="#2b2b2b" stroke-width="1.2"/>
<line x1="555.59" y1="155.1" x2="555.59" y2="153.1" stroke="#2b2b2b" stroke-width="1.2"/>
<text x="509.41" y="165.7" font-size="8.0" fill="#111" stroke="#111" stroke-width="0.3" text-anchor="middle" font-family="Liberation Sans" font-weight="bold">535</text>
<text x="601.76" y="165.7" font-size="8.0" fill="#111" stroke="#111" stroke-width="0.3" text-anchor="middle" font-family="Liberation Sans" font-weight="bold">530</text>
<text x="546.3" y="177.6" font-size="9.7" fill="#111" stroke="#111" stroke-width="0.3" text-anchor="middle" font-family="Liberation Sans" font-weight="bold">Binding Energy (eV)</text>
<text x="445.4" y="77.0" font-size="9.8" fill="#111" stroke="#111" stroke-width="0.3" text-anchor="middle" font-family="Liberation Sans" font-weight="bold" transform="rotate(-90 445.4 77.0)">Intensity (a.u.)</text>
<text x="1.5" y="193.7" font-size="18.5" fill="#000" stroke="#000" stroke-width="0" text-anchor="start" font-family="Liberation Sans" font-weight="bold">d</text>
<text x="23.4" y="195.3" font-size="10" fill="#111" stroke="#111" stroke-width="0.3" text-anchor="start" font-family="Liberation Sans" font-weight="bold">1-P 2p</text>
<path d="M40.9 245.9L41.7 245.9L42.4 245.9L43.2 245.9L43.9 245.9L44.7 245.9L45.4 245.8L46.2 245.8L46.9 245.8L47.7 245.8L48.4 245.8L49.2 245.8L49.9 245.8L50.7 245.8L51.4 245.8L52.2 245.8L52.9 245.8L53.7 245.8L54.4 245.8L55.2 245.8L55.9 245.8L56.7 245.8L57.4 245.8L58.2 245.8L58.9 245.8L59.7 245.8L60.4 245.8L61.2 245.8L61.9 245.8L62.7 245.7L63.4 245.7L64.2 245.7L64.9 245.7L65.7 245.7L66.4 245.7L67.2 245.7L67.9 245.7L68.7 245.7L69.4 245.7L70.2 245.7L70.9 245.7L71.7 245.6L72.5 245.6L73.2 245.6L74.0 245.6L74.7 245.6L75.5 245.6L76.2 245.6L77.0 245.5L77.7 245.5L78.5 245.5L79.2 245.4L80.0 245.4L80.7 245.3L81.5 245.3L82.2 245.2L83.0 245.1L83.7 245.0L84.5 244.9L85.2 244.8L86.0 244.6L86.7 244.5L87.5 244.2L88.2 244.0L89.0 243.7L89.7 243.4L90.5 243.0L91.2 242.6L92.0 242.2L92.7 241.6L93.5 241.1L94.2 240.4L95.0 239.7L95.7 238.9L96.5 238.1L97.2 237.2L98.0 236.2L98.7 235.2L99.5 234.1L100.2 233.0L101.0 231.8L101.7 230.6L102.5 229.3L103.3 228.0L104.0 226.7L104.8 225.4L105.5 224.1L106.3 222.8L107.0 221.5L107.8 220.2L108.5 219.1L109.3 217.9L110.0 216.9L110.8 215.9L111.5 215.0L112.3 214.1L113.0 213.4L113.8 212.8L114.5 212.3L115.3 211.9L116.0 211.6L116.8 211.4L117.5 211.2L118.3 211.2L119.0 211.2L119.8 211.3L120.5 211.5L121.3 211.8L122.0 212.2L122.8 212.7L123.5 213.4L124.3 214.1L125.0 214.9L125.8 215.9L126.5 216.9L127.3 218.0L128.0 219.2L128.8 220.4L129.5 221.7L130.3 223.0L131.0 224.4L131.8 225.7L132.6 227.1L133.3 228.4L134.1 229.8L134.8 231.0L135.6 232.3L136.3 233.5L137.1 234.7L137.8 235.8L138.6 236.8L139.3 237.7L140.1 238.6L140.8 239.5L141.6 240.2L142.3 240.9L143.1 241.5L143.8 242.1L144.6 242.6L145.3 243.0L146.1 243.4L146.8 243.7L147.6 244.0L148.3 244.2L149.1 244.5L149.8 244.7L150.6 244.8L151.3 244.9L152.1 245.1L152.8 245.2L153.6 245.2L154.3 245.3L155.1 245.4L155.8 245.4L156.6 245.5L157.3 245.5L158.1 245.5L158.8 245.5L159.6 245.6L160.3 245.6L161.1 245.6L161.8 245.6L162.6 245.6L163.4 245.6L164.1 245.7L164.9 245.7L165.6 245.7L166.4 245.7L167.1 245.7L167.9 245.7L168.6 245.7L169.4 245.7L170.1 245.7L170.9 245.7L171.6 245.7L172.4 245.8L173.1 245.8L173.9 245.8L174.6 245.8L175.4 245.8L176.1 245.8L176.9 245.8L177.6 245.8L178.4 245.8L179.1 245.8L179.9 245.8L180.6 245.8L181.4 245.8L182.1 245.8L182.9 245.8L183.6 245.8L184.4 245.8L185.1 245.8L185.9 245.8L186.6 245.8L187.4 245.8L188.1 245.8L188.9 245.8L189.6 245.9L190.4 245.9L191.1 245.9L191.9 245.9L192.6 245.9L193.4 245.9L193.4 246.0L40.9 246.0Z" fill="url(#gPurpleD)"/>
<path d="M19.8 245.9L20.5 245.9L21.3 245.9L22.0 245.9L22.8 245.9L23.5 245.9L24.3 245.9L25.0 245.9L25.8 245.9L26.5 245.9L27.3 245.9L28.0 245.9L28.8 245.9L29.5 245.9L30.3 245.9L31.0 245.9L31.8 245.9L32.5 245.9L33.3 245.9L34.0 245.9L34.8 245.8L35.5 245.8L36.3 245.8L37.0 245.8L37.8 245.8L38.5 245.8L39.3 245.8L40.0 245.8L40.8 245.8L41.5 245.8L42.3 245.8L43.0 245.8L43.8 245.7L44.5 245.7L45.3 245.7L46.0 245.7L46.8 245.7L47.5 245.7L48.3 245.6L49.0 245.6L49.8 245.6L50.5 245.5L51.3 245.5L52.0 245.5L52.8 245.4L53.5 245.4L54.3 245.3L55.0 245.2L55.8 245.2L56.5 245.1L57.3 245.0L58.0 244.9L58.8 244.8L59.5 244.7L60.3 244.5L61.0 244.4L61.8 244.2L62.5 244.1L63.2 243.9L64.0 243.7L64.7 243.5L65.5 243.3L66.2 243.0L67.0 242.8L67.7 242.5L68.5 242.2L69.2 241.9L70.0 241.6L70.7 241.3L71.5 240.9L72.2 240.5L73.0 240.1L73.7 239.7L74.5 239.3L75.2 238.9L76.0 238.4L76.7 238.0L77.5 237.5L78.2 237.0L79.0 236.5L79.7 236.0L80.5 235.5L81.2 235.0L82.0 234.5L82.7 234.0L83.5 233.5L84.2 233.0L85.0 232.5L85.7 232.1L86.5 231.6L87.2 231.2L88.0 230.8L88.7 230.4L89.5 230.0L90.2 229.7L91.0 229.3L91.7 229.1L92.5 228.8L93.2 228.6L94.0 228.5L94.7 228.3L95.5 228.2L96.2 228.2L97.0 228.2L97.7 228.2L98.5 228.3L99.2 228.5L100.0 228.6L100.7 228.8L101.5 229.1L102.2 229.3L103.0 229.6L103.7 230.0L104.4 230.4L105.2 230.7L105.9 231.2L106.7 231.6L107.4 232.1L108.2 232.5L108.9 233.0L109.7 233.5L110.4 234.0L111.2 234.5L111.9 235.0L112.7 235.5L113.4 236.0L114.2 236.5L114.9 237.0L115.7 237.5L116.4 238.0L117.2 238.4L117.9 238.9L118.7 239.3L119.4 239.7L120.2 240.1L120.9 240.5L121.7 240.9L122.4 241.2L123.2 241.6L123.9 241.9L124.7 242.2L125.4 242.5L126.2 242.8L126.9 243.0L127.7 243.3L128.4 243.5L129.2 243.7L129.9 243.9L130.7 244.1L131.4 244.2L132.2 244.4L132.9 244.5L133.7 244.7L134.4 244.8L135.2 244.9L135.9 245.0L136.7 245.1L137.4 245.1L138.2 245.2L138.9 245.3L139.7 245.3L140.4 245.4L141.2 245.5L141.9 245.5L142.7 245.5L143.4 245.6L144.2 245.6L144.9 245.6L145.7 245.7L146.4 245.7L147.1 245.7L147.9 245.7L148.6 245.7L149.4 245.7L150.1 245.8L150.9 245.8L151.6 245.8L152.4 245.8L153.1 245.8L153.9 245.8L154.6 245.8L155.4 245.8L156.1 245.8L156.9 245.8L157.6 245.8L158.4 245.8L159.1 245.9L159.9 245.9L160.6 245.9L161.4 245.9L162.1 245.9L162.9 245.9L163.6 245.9L164.4 245.9L165.1 245.9L165.9 245.9L166.6 245.9L167.4 245.9L168.1 245.9L168.9 245.9L169.6 245.9L170.4 245.9L171.1 245.9L171.9 245.9L172.6 245.9L173.4 245.9L174.1 245.9L174.9 245.9L175.6 245.9L176.4 245.9L177.1 245.9L177.9 245.9L178.6 245.9L179.4 245.9L180.1 245.9L180.9 245.9L181.6 245.9L182.4 245.9L183.1 245.9L183.9 245.9L184.6 245.9L185.4 245.9L186.1 245.9L186.9 245.9L187.6 245.9L188.4 245.9L189.1 245.9L189.1 246.0L19.8 246.0Z" fill="url(#gGreenD)"/>
<path d="M19.8 246.0L204.9 246.0" fill="none" stroke="#a6cdf2" stroke-width="1"/>
<path d="M19.8 246.4C24.8 246.4 44.0 246.4 50.0 246.2C56.0 246.0 53.8 245.8 56.0 245.4C58.2 245.0 60.7 244.5 63.0 243.8C65.3 243.2 67.7 242.7 70.0 241.5C72.3 240.3 74.6 238.7 76.9 236.5C79.2 234.3 81.5 231.2 83.8 228.3C86.1 225.4 88.3 221.9 90.6 219.0C92.9 216.1 95.2 213.1 97.5 210.8C99.8 208.5 102.3 206.4 104.4 205.0C106.5 203.6 108.4 202.9 110.0 202.4C111.6 201.9 112.5 201.7 114.0 202.0C115.5 202.3 117.2 202.6 119.0 204.0C120.8 205.4 123.0 207.9 125.0 210.5C127.0 213.1 129.1 216.7 131.0 219.3C132.9 222.0 134.7 224.1 136.5 226.4C138.3 228.7 140.2 231.2 142.0 233.1C143.8 235.0 145.6 236.6 147.5 238.0C149.4 239.4 151.3 240.8 153.3 241.8C155.3 242.9 157.2 243.6 159.4 244.3C161.6 245.0 162.9 245.5 166.3 245.9C169.7 246.3 173.6 246.4 180.0 246.5C186.4 246.6 200.8 246.5 204.9 246.5" fill="none" stroke="#3f8ff0" stroke-width="1.5" stroke-linejoin="round"/>
<path d="M60.6 314.6L61.4 314.6L62.1 314.6L62.9 314.6L63.6 314.6L64.4 314.6L65.1 314.6L65.9 314.6L66.6 314.6L67.4 314.6L68.1 314.6L68.9 314.6L69.6 314.6L70.4 314.6L71.1 314.6L71.9 314.6L72.6 314.6L73.4 314.6L74.1 314.6L74.9 314.6L75.6 314.6L76.4 314.5L77.1 314.5L77.9 314.5L78.6 314.5L79.4 314.5L80.1 314.5L80.9 314.5L81.6 314.5L82.4 314.5L83.1 314.5L83.9 314.4L84.6 314.4L85.4 314.4L86.2 314.4L86.9 314.4L87.7 314.4L88.4 314.3L89.2 314.3L89.9 314.3L90.7 314.2L91.4 314.2L92.2 314.1L92.9 314.1L93.7 314.0L94.4 313.9L95.2 313.8L95.9 313.7L96.7 313.6L97.4 313.4L98.2 313.3L98.9 313.1L99.7 312.9L100.4 312.6L101.2 312.3L101.9 312.0L102.7 311.7L103.4 311.3L104.2 310.8L104.9 310.3L105.7 309.8L106.4 309.2L107.2 308.5L107.9 307.7L108.7 306.9L109.5 306.1L110.2 305.1L111.0 304.1L111.7 303.1L112.5 301.9L113.2 300.7L114.0 299.4L114.7 298.1L115.5 296.7L116.2 295.3L117.0 293.8L117.7 292.3L118.5 290.8L119.2 289.3L120.0 287.8L120.7 286.3L121.5 284.8L122.2 283.4L123.0 282.0L123.7 280.7L124.5 279.5L125.2 278.3L126.0 277.3L126.7 276.5L127.5 275.7L128.2 275.1L129.0 274.7L129.7 274.4L130.5 274.3L131.2 274.3L132.0 274.5L132.8 274.8L133.5 275.2L134.3 275.7L135.0 276.3L135.8 277.0L136.5 277.9L137.3 278.8L138.0 279.7L138.8 280.8L139.5 281.9L140.3 283.1L141.0 284.3L141.8 285.5L142.5 286.8L143.3 288.0L144.0 289.3L144.8 290.6L145.5 291.9L146.3 293.2L147.0 294.4L147.8 295.7L148.5 296.9L149.3 298.0L150.0 299.2L150.8 300.3L151.5 301.3L152.3 302.3L153.0 303.3L153.8 304.2L154.5 305.0L155.3 305.8L156.0 306.6L156.8 307.3L157.6 308.0L158.3 308.6L159.1 309.1L159.8 309.7L160.6 310.1L161.3 310.6L162.1 311.0L162.8 311.4L163.6 311.7L164.3 312.0L165.1 312.3L165.8 312.5L166.6 312.7L167.3 312.9L168.1 313.1L168.8 313.3L169.6 313.4L170.3 313.5L171.1 313.7L171.8 313.8L172.6 313.8L173.3 313.9L174.1 314.0L174.8 314.1L175.6 314.1L176.3 314.2L177.1 314.2L177.8 314.2L178.6 314.3L179.3 314.3L180.1 314.3L180.8 314.3L181.6 314.4L182.4 314.4L183.1 314.4L183.9 314.4L184.6 314.4L185.4 314.4L186.1 314.5L186.9 314.5L187.6 314.5L188.4 314.5L189.1 314.5L189.9 314.5L190.6 314.5L191.4 314.5L192.1 314.5L192.9 314.5L193.6 314.5L194.4 314.5L195.1 314.6L195.9 314.6L196.6 314.6L197.4 314.6L198.1 314.6L198.9 314.6L199.6 314.6L200.4 314.6L201.1 314.6L201.9 314.6L202.6 314.6L203.4 314.6L204.1 314.6L204.9 314.6L204.9 314.8L60.6 314.8Z" fill="url(#gPurpleD)"/>
<path d="M35.1 314.7L35.9 314.7L36.6 314.7L37.4 314.7L38.1 314.7L38.9 314.7L39.6 314.7L40.4 314.7L41.1 314.7L41.9 314.7L42.6 314.7L43.4 314.7L44.1 314.7L44.9 314.7L45.6 314.7L46.4 314.7L47.1 314.7L47.9 314.7L48.6 314.7L49.4 314.7L50.1 314.7L50.9 314.7L51.6 314.7L52.4 314.7L53.1 314.7L53.9 314.7L54.6 314.7L55.4 314.7L56.1 314.6L56.9 314.6L57.6 314.6L58.4 314.6L59.1 314.6L59.9 314.6L60.6 314.6L61.4 314.6L62.1 314.6L62.9 314.6L63.6 314.6L64.4 314.6L65.2 314.5L65.9 314.5L66.7 314.5L67.4 314.5L68.2 314.5L68.9 314.4L69.7 314.4L70.4 314.3L71.2 314.3L71.9 314.2L72.7 314.2L73.4 314.1L74.2 314.0L74.9 313.9L75.7 313.8L76.4 313.7L77.2 313.6L77.9 313.4L78.7 313.2L79.4 313.0L80.2 312.8L80.9 312.6L81.7 312.3L82.4 312.0L83.2 311.7L83.9 311.4L84.7 311.0L85.4 310.6L86.2 310.1L86.9 309.7L87.7 309.2L88.4 308.6L89.2 308.0L89.9 307.4L90.7 306.8L91.4 306.2L92.2 305.5L92.9 304.8L93.7 304.1L94.5 303.4L95.2 302.6L96.0 301.9L96.7 301.1L97.5 300.4L98.2 299.7L99.0 299.0L99.7 298.4L100.5 297.7L101.2 297.1L102.0 296.6L102.7 296.1L103.5 295.7L104.2 295.3L105.0 295.0L105.7 294.7L106.5 294.6L107.2 294.5L108.0 294.5L108.7 294.6L109.5 294.7L110.2 295.0L111.0 295.3L111.7 295.7L112.5 296.1L113.2 296.6L114.0 297.1L114.7 297.7L115.5 298.4L116.2 299.0L117.0 299.7L117.7 300.4L118.5 301.1L119.2 301.9L120.0 302.6L120.7 303.4L121.5 304.1L122.3 304.8L123.0 305.5L123.8 306.2L124.5 306.8L125.3 307.4L126.0 308.0L126.8 308.6L127.5 309.2L128.3 309.7L129.0 310.1L129.8 310.6L130.5 311.0L131.3 311.4L132.0 311.7L132.8 312.0L133.5 312.3L134.3 312.6L135.0 312.8L135.8 313.0L136.5 313.2L137.3 313.4L138.0 313.6L138.8 313.7L139.5 313.8L140.3 313.9L141.0 314.0L141.8 314.1L142.5 314.2L143.3 314.2L144.0 314.3L144.8 314.3L145.5 314.4L146.3 314.4L147.0 314.5L147.8 314.5L148.5 314.5L149.3 314.5L150.0 314.5L150.8 314.6L151.6 314.6L152.3 314.6L153.1 314.6L153.8 314.6L154.6 314.6L155.3 314.6L156.1 314.6L156.8 314.6L157.6 314.6L158.3 314.6L159.1 314.6L159.8 314.7L160.6 314.7L161.3 314.7L162.1 314.7L162.8 314.7L163.6 314.7L164.3 314.7L165.1 314.7L165.8 314.7L166.6 314.7L167.3 314.7L168.1 314.7L168.8 314.7L169.6 314.7L170.3 314.7L171.1 314.7L171.8 314.7L172.6 314.7L173.3 314.7L174.1 314.7L174.8 314.7L175.6 314.7L176.3 314.7L177.1 314.7L177.8 314.7L178.6 314.7L179.3 314.7L180.1 314.7L180.1 314.8L35.1 314.8Z" fill="url(#gGreenD)"/>
<path d="M19.8 314.8L204.9 314.8" fill="none" stroke="#a6cdf2" stroke-width="1"/>
<path d="M19.8 315.0C26.5 315.0 51.7 315.1 60.0 314.8C68.3 314.6 67.0 314.0 69.6 313.5C72.2 313.0 73.7 312.5 75.8 311.6C77.9 310.7 79.9 309.8 82.0 308.2C84.1 306.6 86.1 304.3 88.2 302.3C90.3 300.3 92.4 298.1 94.4 296.0C96.4 293.9 98.5 291.4 100.0 289.5C101.5 287.6 101.8 286.6 103.4 284.3C105.0 282.0 107.5 278.1 109.6 275.6C111.7 273.1 114.0 270.9 115.8 269.4C117.6 267.9 118.8 267.4 120.5 266.8C122.2 266.2 124.0 265.4 126.0 265.7C128.0 266.0 130.7 267.3 132.4 268.6C134.2 269.9 135.1 271.6 136.5 273.5C137.9 275.4 139.6 278.1 141.0 280.3C142.4 282.5 143.5 284.1 145.0 286.5C146.5 288.9 148.0 291.9 149.8 294.9C151.6 297.8 153.9 301.7 156.0 304.2C158.1 306.7 160.1 308.4 162.2 309.8C164.3 311.2 166.3 311.9 168.4 312.5C170.5 313.1 171.5 313.3 174.6 313.7C177.7 314.1 181.9 314.4 187.0 314.6C192.1 314.8 201.9 314.7 204.9 314.7" fill="none" stroke="#d81f24" stroke-width="1.7" stroke-linejoin="round"/>
<text x="63.8" y="293.1" font-size="10" fill="#8cc47c" stroke="#8cc47c" stroke-width="0.2" font-family="Liberation Sans" font-weight="bold">P 2p<tspan font-size="7.0" dy="2.6" dx="0.6">1/2</tspan></text>
<text x="139.8" y="275.1" font-size="10" fill="#9a7ecc" stroke="#9a7ecc" stroke-width="0.2" font-family="Liberation Sans" font-weight="bold">P 2p<tspan font-size="7.0" dy="2.6" dx="0.6">3/2</tspan></text>
<rect x="19.8" y="183.7" width="185.10" height="148.70" fill="none" stroke="#2b2b2b" stroke-width="1.5"/>
<line x1="19.80" y1="332.4" x2="19.80" y2="329.09999999999997" stroke="#2b2b2b" stroke-width="1.2"/>
<line x1="42.94" y1="332.4" x2="42.94" y2="330.4" stroke="#2b2b2b" stroke-width="1.2"/>
<line x1="66.08" y1="332.4" x2="66.08" y2="329.09999999999997" stroke="#2b2b2b" stroke-width="1.2"/>
<line x1="89.22" y1="332.4" x2="89.22" y2="330.4" stroke="#2b2b2b" stroke-width="1.2"/>
<line x1="112.36" y1="332.4" x2="112.36" y2="329.09999999999997" stroke="#2b2b2b" stroke-width="1.2"/>
<line x1="135.50" y1="332.4" x2="135.50" y2="330.4" stroke="#2b2b2b" stroke-width="1.2"/>
<line x1="158.64" y1="332.4" x2="158.64" y2="329.09999999999997" stroke="#2b2b2b" stroke-width="1.2"/>
<line x1="181.78" y1="332.4" x2="181.78" y2="330.4" stroke="#2b2b2b" stroke-width="1.2"/>
<line x1="204.92" y1="332.4" x2="204.92" y2="329.09999999999997" stroke="#2b2b2b" stroke-width="1.2"/>
<text x="19.80" y="344.6" font-size="8.4" fill="#111" stroke="#111" stroke-width="0.3" text-anchor="middle" font-family="Liberation Sans" font-weight="bold">138</text>
<text x="66.08" y="344.6" font-size="8.4" fill="#111" stroke="#111" stroke-width="0.3" text-anchor="middle" font-family="Liberation Sans" font-weight="bold">136</text>
<text x="112.36" y="344.6" font-size="8.4" fill="#111" stroke="#111" stroke-width="0.3" text-anchor="middle" font-family="Liberation Sans" font-weight="bold">134</text>
<text x="158.64" y="344.6" font-size="8.4" fill="#111" stroke="#111" stroke-width="0.3" text-anchor="middle" font-family="Liberation Sans" font-weight="bold">132</text>
<text x="204.92" y="344.6" font-size="8.4" fill="#111" stroke="#111" stroke-width="0.3" text-anchor="middle" font-family="Liberation Sans" font-weight="bold">130</text>
<text x="112.7" y="357.0" font-size="10.0" fill="#111" stroke="#111" stroke-width="0.3" text-anchor="middle" font-family="Liberation Sans" font-weight="bold">Binding Energy (eV)</text>
<text x="10.6" y="253.4" font-size="9.8" fill="#111" stroke="#111" stroke-width="0.3" text-anchor="middle" font-family="Liberation Sans" font-weight="bold" transform="rotate(-90 10.6 253.4)">Intensity (a.u.)</text>
<text x="216.0" y="191.9" font-size="18.5" fill="#000" stroke="#000" stroke-width="0" text-anchor="start" font-family="Liberation Sans" font-weight="bold">e</text>
<text x="239.6" y="193.0" font-size="10" fill="#111" stroke="#111" stroke-width="0.3" text-anchor="start" font-family="Liberation Sans" font-weight="bold">1-S 2p</text>
<line x1="363.8" y1="191.5" x2="381.8" y2="191.5" stroke="#111" stroke-width="1.2"/>
<line x1="363.8" y1="204.0" x2="381.8" y2="204.0" stroke="#111" stroke-width="1.2" stroke-dasharray="2.4,1.5"/>
<text x="384.6" y="195.2" font-size="8.8" fill="#111" stroke="#111" stroke-width="0.3" font-family="Liberation Sans" font-weight="bold">S 2p<tspan font-size="6.8" dy="2.6">3/2</tspan></text>
<text x="384.6" y="208.2" font-size="8.8" fill="#111" stroke="#111" stroke-width="0.3" font-family="Liberation Sans" font-weight="bold">S 2p<tspan font-size="6.8" dy="2.6">1/2</tspan></text>
<path d="M237.0 254.3L237.8 254.3L238.5 254.3L239.3 254.3L240.0 254.3L240.8 254.4L241.5 254.4L242.3 254.4L243.0 254.4L243.8 254.4L244.5 254.4L245.3 254.4L246.0 254.4L246.8 254.4L247.5 254.4L248.3 254.4L249.0 254.4L249.8 254.4L250.5 254.4L251.3 254.4L252.0 254.3L252.8 254.3L253.5 254.3L254.3 254.3L255.0 254.3L255.8 254.3L256.5 254.3L257.3 254.2L258.0 254.2L258.8 254.2L259.5 254.1L260.3 254.1L261.0 254.0L261.8 253.9L262.5 253.9L263.3 253.8L264.0 253.7L264.8 253.6L265.5 253.5L266.3 253.3L267.0 253.2L267.8 253.0L268.5 252.8L269.3 252.6L270.0 252.4L270.8 252.2L271.5 251.9L272.3 251.7L273.0 251.4L273.8 251.1L274.5 250.8L275.3 250.5L276.0 250.2L276.8 249.8L277.5 249.5L278.3 249.1L279.1 248.7L279.8 248.4L280.6 248.0L281.3 247.7L282.1 247.3L282.8 247.0L283.6 246.6L284.3 246.3L285.1 246.1L285.8 245.8L286.6 245.6L287.3 245.4L288.1 245.2L288.8 245.1L289.6 245.0L290.3 245.0L291.1 245.0L291.8 245.0L292.6 245.1L293.3 245.2L294.1 245.3L294.8 245.5L295.6 245.7L296.3 246.0L297.1 246.3L297.8 246.6L298.6 246.9L299.3 247.2L300.1 247.6L300.8 247.9L301.6 248.3L302.3 248.7L303.1 249.1L303.8 249.4L304.6 249.8L305.3 250.2L306.1 250.5L306.8 250.8L307.6 251.2L308.3 251.5L309.1 251.8L309.8 252.1L310.6 252.3L311.3 252.6L312.1 252.8L312.8 253.0L313.6 253.2L314.3 253.4L315.1 253.6L315.8 253.7L316.6 253.8L317.3 254.0L318.1 254.1L318.8 254.2L319.6 254.3L320.4 254.4L321.1 254.4L321.9 254.5L322.6 254.5L323.4 254.6L324.1 254.6L324.9 254.7L325.6 254.7L326.4 254.8L327.1 254.8L327.9 254.8L328.6 254.8L329.4 254.8L330.1 254.9L330.9 254.9L331.6 254.9L332.4 254.9L333.1 254.9L333.9 254.9L334.6 254.9L335.4 254.9L336.1 255.0L336.9 255.0L337.6 255.0L338.4 255.0L339.1 255.0L339.9 255.0L340.6 255.0L341.4 255.0L342.1 255.0L342.9 255.0L343.6 255.0L344.4 255.0L345.1 255.0L345.9 255.1L346.6 255.1L347.4 255.1L348.1 255.1L348.9 255.1L349.6 255.1L350.4 255.1L351.1 255.1L351.9 255.1L352.6 255.1L353.4 255.1L354.1 255.1L354.9 255.1L355.6 255.1L356.4 255.1L357.1 255.1L357.9 255.2L358.6 255.2L359.4 255.2L360.1 255.2L360.9 255.2L360.9 255.2L237.0 254.4Z" fill="url(#gPurpleE2)"/>
<path d="M237.0 254.3L237.8 254.3L238.5 254.3L239.3 254.3L240.0 254.3L240.8 254.3L241.5 254.3L242.3 254.3L243.0 254.3L243.8 254.3L244.5 254.3L245.3 254.3L246.0 254.4L246.8 254.4L247.5 254.4L248.3 254.4L249.0 254.4L249.8 254.4L250.5 254.4L251.3 254.4L252.0 254.4L252.8 254.4L253.5 254.4L254.3 254.4L255.0 254.4L255.8 254.4L256.5 254.4L257.3 254.4L258.0 254.4L258.8 254.4L259.5 254.3L260.3 254.3L261.0 254.3L261.8 254.3L262.5 254.3L263.3 254.3L264.0 254.3L264.8 254.3L265.5 254.2L266.3 254.2L267.0 254.2L267.8 254.1L268.5 254.1L269.3 254.0L270.0 253.9L270.8 253.9L271.5 253.8L272.3 253.7L273.0 253.6L273.8 253.4L274.5 253.3L275.3 253.1L276.0 252.9L276.8 252.7L277.5 252.5L278.3 252.2L279.0 251.9L279.8 251.6L280.5 251.2L281.3 250.8L282.0 250.4L282.8 250.0L283.5 249.5L284.3 249.0L285.0 248.5L285.8 247.9L286.5 247.3L287.3 246.7L288.0 246.0L288.8 245.4L289.5 244.7L290.3 244.0L291.0 243.3L291.8 242.6L292.5 241.9L293.3 241.2L294.0 240.5L294.8 239.9L295.5 239.3L296.3 238.7L297.0 238.2L297.8 237.7L298.5 237.2L299.3 236.8L300.0 236.5L300.8 236.3L301.5 236.1L302.3 236.0L303.0 236.0L303.8 236.1L304.5 236.2L305.3 236.5L306.0 236.8L306.8 237.1L307.5 237.5L308.3 238.0L309.0 238.6L309.8 239.1L310.5 239.7L311.3 240.4L312.0 241.1L312.8 241.8L313.5 242.5L314.3 243.2L315.0 243.9L315.8 244.6L316.5 245.3L317.3 246.0L318.0 246.6L318.8 247.3L319.5 247.9L320.3 248.5L321.0 249.0L321.8 249.6L322.5 250.1L323.3 250.5L324.0 251.0L324.8 251.4L325.5 251.7L326.3 252.1L327.0 252.4L327.8 252.7L328.5 252.9L329.3 253.2L330.0 253.4L330.8 253.6L331.5 253.7L332.3 253.9L333.0 254.0L333.8 254.1L334.5 254.3L335.3 254.3L336.0 254.4L336.8 254.5L337.5 254.6L338.3 254.6L339.0 254.7L339.8 254.7L340.5 254.7L341.3 254.8L342.0 254.8L342.8 254.8L343.5 254.9L344.3 254.9L345.0 254.9L345.8 254.9L346.5 254.9L347.3 254.9L348.0 255.0L348.8 255.0L349.5 255.0L350.3 255.0L351.0 255.0L351.8 255.0L352.5 255.0L353.3 255.0L354.0 255.0L354.8 255.0L355.5 255.1L356.3 255.1L357.0 255.1L357.8 255.1L358.5 255.1L359.3 255.1L360.0 255.1L360.8 255.1L361.5 255.1L362.3 255.1L363.0 255.1L363.8 255.1L364.5 255.1L365.3 255.2L366.0 255.2L366.8 255.2L367.5 255.2L368.3 255.2L369.0 255.2L369.8 255.2L370.5 255.2L371.3 255.2L372.0 255.2L372.8 255.2L372.8 255.3L237.0 254.4Z" fill="url(#gPurpleE)"/>
<path d="M304.8 254.8L305.6 254.8L306.3 254.8L307.1 254.8L307.8 254.8L308.6 254.8L309.3 254.8L310.1 254.8L310.8 254.8L311.6 254.8L312.3 254.8L313.1 254.8L313.8 254.8L314.6 254.8L315.3 254.8L316.1 254.8L316.8 254.8L317.6 254.8L318.3 254.8L319.1 254.8L319.8 254.8L320.6 254.8L321.3 254.8L322.1 254.7L322.8 254.7L323.6 254.6L324.3 254.6L325.1 254.5L325.8 254.4L326.6 254.2L327.3 254.0L328.1 253.8L328.8 253.5L329.6 253.2L330.3 252.7L331.1 252.2L331.8 251.7L332.6 251.0L333.3 250.3L334.1 249.6L334.8 248.7L335.6 247.9L336.3 247.0L337.1 246.1L337.8 245.3L338.6 244.5L339.3 243.8L340.1 243.3L340.8 242.8L341.6 242.6L342.3 242.5L343.1 242.6L343.8 242.9L344.6 243.3L345.3 243.9L346.1 244.6L346.8 245.4L347.6 246.2L348.3 247.1L349.1 248.0L349.8 248.8L350.6 249.7L351.3 250.5L352.1 251.2L352.8 251.8L353.6 252.4L354.3 252.9L355.1 253.3L355.8 253.7L356.6 254.0L357.3 254.2L358.1 254.4L358.8 254.6L359.6 254.7L360.3 254.8L361.1 254.9L361.8 255.0L362.6 255.0L363.3 255.0L364.1 255.1L364.8 255.1L365.6 255.1L366.3 255.1L367.1 255.1L367.8 255.2L368.6 255.2L369.3 255.2L370.1 255.2L370.8 255.2L371.6 255.2L372.3 255.2L373.1 255.2L373.8 255.2L374.6 255.2L375.3 255.2L376.1 255.3L376.8 255.3L377.6 255.3L378.3 255.3L379.1 255.3L379.8 255.3L379.8 255.3L304.8 254.8Z" fill="url(#gOrangeE2)"/>
<path d="M321.6 254.6L322.4 254.6L323.1 254.6L323.9 254.6L324.6 254.6L325.4 254.6L326.1 254.6L326.9 254.5L327.6 254.5L328.4 254.5L329.1 254.5L329.9 254.5L330.6 254.4L331.4 254.4L332.1 254.4L332.9 254.3L333.6 254.3L334.4 254.2L335.1 254.2L335.9 254.1L336.7 254.1L337.4 254.0L338.2 253.9L338.9 253.7L339.7 253.5L340.4 253.3L341.2 253.1L341.9 252.7L342.7 252.3L343.4 251.8L344.2 251.2L344.9 250.5L345.7 249.7L346.4 248.7L347.2 247.5L347.9 246.2L348.7 244.8L349.4 243.2L350.2 241.5L351.0 239.8L351.7 238.0L352.5 236.3L353.2 234.7L354.0 233.2L354.7 232.0L355.5 231.2L356.2 230.7L357.0 230.7L357.7 231.2L358.5 232.1L359.2 233.3L360.0 234.7L360.7 236.4L361.5 238.1L362.2 239.9L363.0 241.6L363.8 243.3L364.5 244.9L365.3 246.3L366.0 247.6L366.8 248.8L367.5 249.8L368.3 250.7L369.0 251.4L369.8 252.0L370.5 252.5L371.3 252.9L372.0 253.3L372.8 253.5L373.5 253.8L374.3 253.9L375.0 254.1L375.8 254.2L376.5 254.3L377.3 254.4L378.1 254.5L378.8 254.5L379.6 254.6L380.3 254.6L381.1 254.7L381.8 254.7L382.6 254.8L383.3 254.8L384.1 254.8L384.8 254.9L385.6 254.9L386.3 254.9L387.1 255.0L387.8 255.0L388.6 255.0L389.3 255.0L390.1 255.0L390.8 255.1L391.6 255.1L391.6 255.4L321.6 255.0Z" fill="url(#gOrangeE)"/>
<path d="M329.9 255.0L330.7 255.0L331.4 255.0L332.2 255.0L332.9 255.0L333.7 255.0L334.4 255.0L335.2 255.0L335.9 255.0L336.7 255.0L337.4 255.0L338.2 255.0L338.9 255.0L339.7 255.0L340.4 255.0L341.2 255.0L341.9 255.0L342.7 255.0L343.4 255.0L344.2 254.9L345.0 254.9L345.7 254.9L346.5 254.8L347.2 254.8L348.0 254.7L348.7 254.6L349.5 254.5L350.2 254.3L351.0 254.1L351.7 253.8L352.5 253.5L353.2 253.0L354.0 252.5L354.7 251.9L355.5 251.2L356.2 250.4L357.0 249.6L357.7 248.6L358.5 247.7L359.3 246.6L360.0 245.6L360.8 244.7L361.5 243.8L362.3 243.0L363.0 242.4L363.8 242.0L364.5 241.8L365.3 241.8L366.0 242.0L366.8 242.4L367.5 243.1L368.3 243.8L369.0 244.7L369.8 245.7L370.5 246.7L371.3 247.7L372.1 248.7L372.8 249.7L373.6 250.6L374.3 251.3L375.1 252.1L375.8 252.7L376.6 253.2L377.3 253.6L378.1 254.0L378.8 254.3L379.6 254.5L380.3 254.7L381.1 254.8L381.8 254.9L382.6 255.0L383.3 255.1L384.1 255.1L384.8 255.2L385.6 255.2L386.4 255.2L387.1 255.3L387.9 255.3L388.6 255.3L389.4 255.3L390.1 255.3L390.9 255.3L391.6 255.3L392.4 255.3L393.1 255.3L393.9 255.4L394.6 255.4L395.4 255.4L396.1 255.4L396.9 255.4L397.6 255.4L398.4 255.4L399.1 255.4L399.9 255.4L399.9 255.5L329.9 255.0Z" fill="url(#gBlueE2)"/>
<path d="M344.0 255.0L344.8 255.0L345.5 255.0L346.3 255.0L347.0 255.0L347.8 255.0L348.5 255.0L349.3 255.0L350.0 255.0L350.8 255.0L351.5 255.0L352.3 255.0L353.0 255.0L353.8 255.0L354.5 255.0L355.3 255.0L356.0 254.9L356.8 254.9L357.5 254.9L358.3 254.9L359.1 254.8L359.8 254.8L360.6 254.7L361.3 254.6L362.1 254.4L362.8 254.2L363.6 254.0L364.3 253.6L365.1 253.2L365.8 252.6L366.6 251.9L367.3 251.1L368.1 250.1L368.8 248.9L369.6 247.5L370.3 246.0L371.1 244.3L371.8 242.4L372.6 240.5L373.4 238.5L374.1 236.5L374.9 234.6L375.6 232.9L376.4 231.4L377.1 230.2L377.9 229.3L378.6 228.9L379.4 228.9L380.1 229.3L380.9 230.2L381.6 231.4L382.4 232.9L383.1 234.7L383.9 236.6L384.6 238.6L385.4 240.6L386.2 242.5L386.9 244.4L387.7 246.1L388.4 247.6L389.2 249.0L389.9 250.2L390.7 251.2L391.4 252.1L392.2 252.8L392.9 253.4L393.7 253.8L394.4 254.2L395.2 254.4L395.9 254.6L396.7 254.8L397.4 254.9L398.2 255.0L398.9 255.1L399.7 255.1L400.5 255.2L401.2 255.2L402.0 255.2L402.7 255.3L403.5 255.3L404.2 255.3L405.0 255.3L405.7 255.3L406.5 255.3L407.2 255.4L408.0 255.4L408.7 255.4L409.5 255.4L410.2 255.4L411.0 255.4L411.7 255.4L412.5 255.4L413.2 255.4L414.0 255.5L414.0 255.6L344.0 255.1Z" fill="url(#gBlueE)"/>
<path d="M237.0 254.3L237.8 254.3L238.5 254.3L239.3 254.3L240.0 254.3L240.8 254.4L241.5 254.4L242.3 254.4L243.0 254.4L243.8 254.4L244.5 254.4L245.3 254.4L246.0 254.4L246.8 254.4L247.5 254.4L248.3 254.4L249.0 254.4L249.8 254.4L250.5 254.4L251.3 254.4L252.0 254.3L252.8 254.3L253.5 254.3L254.3 254.3L255.0 254.3L255.8 254.3L256.5 254.3L257.3 254.2L258.0 254.2L258.8 254.2L259.5 254.1L260.3 254.1L261.0 254.0L261.8 253.9L262.5 253.9L263.3 253.8L264.0 253.7L264.8 253.6L265.5 253.5L266.3 253.3L267.0 253.2L267.8 253.0L268.5 252.8L269.3 252.6L270.0 252.4L270.8 252.2L271.5 251.9L272.3 251.7L273.0 251.4L273.8 251.1L274.5 250.8L275.3 250.5L276.0 250.2L276.8 249.8L277.5 249.5L278.3 249.1L279.1 248.7L279.8 248.4L280.6 248.0L281.3 247.7L282.1 247.3L282.8 247.0L283.6 246.6L284.3 246.3L285.1 246.1L285.8 245.8L286.6 245.6L287.3 245.4L288.1 245.2L288.8 245.1L289.6 245.0L290.3 245.0L291.1 245.0L291.8 245.0L292.6 245.1L293.3 245.2L294.1 245.3L294.8 245.5L295.6 245.7L296.3 246.0L297.1 246.3L297.8 246.6L298.6 246.9L299.3 247.2L300.1 247.6L300.8 247.9L301.6 248.3L302.3 248.7L303.1 249.1L303.8 249.4L304.6 249.8L305.3 250.2L306.1 250.5L306.8 250.8L307.6 251.2L308.3 251.5L309.1 251.8L309.8 252.1L310.6 252.3L311.3 252.6L312.1 252.8L312.8 253.0L313.6 253.2L314.3 253.4L315.1 253.6L315.8 253.7L316.6 253.8L317.3 254.0L318.1 254.1L318.8 254.2L319.6 254.3L320.4 254.4L321.1 254.4L321.9 254.5L322.6 254.5L323.4 254.6L324.1 254.6L324.9 254.7L325.6 254.7L326.4 254.8L327.1 254.8L327.9 254.8L328.6 254.8L329.4 254.8L330.1 254.9L330.9 254.9L331.6 254.9L332.4 254.9L333.1 254.9L333.9 254.9L334.6 254.9L335.4 254.9L336.1 255.0L336.9 255.0L337.6 255.0L338.4 255.0L339.1 255.0L339.9 255.0L340.6 255.0L341.4 255.0L342.1 255.0L342.9 255.0L343.6 255.0L344.4 255.0L345.1 255.0L345.9 255.1L346.6 255.1L347.4 255.1L348.1 255.1L348.9 255.1L349.6 255.1L350.4 255.1L351.1 255.1L351.9 255.1L352.6 255.1L353.4 255.1L354.1 255.1L354.9 255.1L355.6 255.1L356.4 255.1L357.1 255.1L357.9 255.2L358.6 255.2L359.4 255.2L360.1 255.2L360.9 255.2" fill="none" stroke="#8c72c0" stroke-width="1" stroke-dasharray="2,1.6"/>
<path d="M304.8 254.8L305.6 254.8L306.3 254.8L307.1 254.8L307.8 254.8L308.6 254.8L309.3 254.8L310.1 254.8L310.8 254.8L311.6 254.8L312.3 254.8L313.1 254.8L313.8 254.8L314.6 254.8L315.3 254.8L316.1 254.8L316.8 254.8L317.6 254.8L318.3 254.8L319.1 254.8L319.8 254.8L320.6 254.8L321.3 254.8L322.1 254.7L322.8 254.7L323.6 254.6L324.3 254.6L325.1 254.5L325.8 254.4L326.6 254.2L327.3 254.0L328.1 253.8L328.8 253.5L329.6 253.2L330.3 252.7L331.1 252.2L331.8 251.7L332.6 251.0L333.3 250.3L334.1 249.6L334.8 248.7L335.6 247.9L336.3 247.0L337.1 246.1L337.8 245.3L338.6 244.5L339.3 243.8L340.1 243.3L340.8 242.8L341.6 242.6L342.3 242.5L343.1 242.6L343.8 242.9L344.6 243.3L345.3 243.9L346.1 244.6L346.8 245.4L347.6 246.2L348.3 247.1L349.1 248.0L349.8 248.8L350.6 249.7L351.3 250.5L352.1 251.2L352.8 251.8L353.6 252.4L354.3 252.9L355.1 253.3L355.8 253.7L356.6 254.0L357.3 254.2L358.1 254.4L358.8 254.6L359.6 254.7L360.3 254.8L361.1 254.9L361.8 255.0L362.6 255.0L363.3 255.0L364.1 255.1L364.8 255.1L365.6 255.1L366.3 255.1L367.1 255.1L367.8 255.2L368.6 255.2L369.3 255.2L370.1 255.2L370.8 255.2L371.6 255.2L372.3 255.2L373.1 255.2L373.8 255.2L374.6 255.2L375.3 255.2L376.1 255.3L376.8 255.3L377.6 255.3L378.3 255.3L379.1 255.3L379.8 255.3" fill="none" stroke="#dfa060" stroke-width="1" stroke-dasharray="2,1.6"/>
<path d="M329.9 255.0L330.7 255.0L331.4 255.0L332.2 255.0L332.9 255.0L333.7 255.0L334.4 255.0L335.2 255.0L335.9 255.0L336.7 255.0L337.4 255.0L338.2 255.0L338.9 255.0L339.7 255.0L340.4 255.0L341.2 255.0L341.9 255.0L342.7 255.0L343.4 255.0L344.2 254.9L345.0 254.9L345.7 254.9L346.5 254.8L347.2 254.8L348.0 254.7L348.7 254.6L349.5 254.5L350.2 254.3L351.0 254.1L351.7 253.8L352.5 253.5L353.2 253.0L354.0 252.5L354.7 251.9L355.5 251.2L356.2 250.4L357.0 249.6L357.7 248.6L358.5 247.7L359.3 246.6L360.0 245.6L360.8 244.7L361.5 243.8L362.3 243.0L363.0 242.4L363.8 242.0L364.5 241.8L365.3 241.8L366.0 242.0L366.8 242.4L367.5 243.1L368.3 243.8L369.0 244.7L369.8 245.7L370.5 246.7L371.3 247.7L372.1 248.7L372.8 249.7L373.6 250.6L374.3 251.3L375.1 252.1L375.8 252.7L376.6 253.2L377.3 253.6L378.1 254.0L378.8 254.3L379.6 254.5L380.3 254.7L381.1 254.8L381.8 254.9L382.6 255.0L383.3 255.1L384.1 255.1L384.8 255.2L385.6 255.2L386.4 255.2L387.1 255.3L387.9 255.3L388.6 255.3L389.4 255.3L390.1 255.3L390.9 255.3L391.6 255.3L392.4 255.3L393.1 255.3L393.9 255.4L394.6 255.4L395.4 255.4L396.1 255.4L396.9 255.4L397.6 255.4L398.4 255.4L399.1 255.4L399.9 255.4" fill="none" stroke="#4a82c6" stroke-width="1" stroke-dasharray="2,1.6"/>
<path d="M237.0 254.4L419.9 255.6" fill="none" stroke="#a6cdf2" stroke-width="1"/>
<path d="M237.0 254.3C240.5 254.3 253.3 254.6 258.0 254.5C262.7 254.4 263.0 254.0 265.0 253.5C267.0 253.0 268.4 252.4 270.2 251.4C271.9 250.4 273.8 249.1 275.5 247.4C277.2 245.8 279.0 243.4 280.7 241.5C282.4 239.6 284.1 237.4 285.9 235.7C287.6 233.9 289.4 232.2 291.2 231.0C292.9 229.8 294.8 228.9 296.4 228.4C298.0 227.9 299.3 227.8 300.6 227.9C301.9 228.0 302.7 228.0 304.0 228.8C305.3 229.6 306.4 230.6 308.2 232.5C310.0 234.4 312.7 237.9 314.6 240.0C316.5 242.1 318.0 244.0 319.4 245.3C320.8 246.6 321.5 247.1 323.0 247.8C324.5 248.5 326.8 249.7 328.6 249.6C330.4 249.5 331.7 248.6 333.6 247.3C335.5 246.0 337.7 243.7 339.8 241.8C341.9 240.0 343.9 238.8 346.0 236.2C348.1 233.6 350.4 229.0 352.2 226.5C354.0 224.0 355.7 222.1 356.9 221.0C358.1 219.9 358.4 219.9 359.5 220.2C360.6 220.5 362.5 221.6 363.8 222.6C365.1 223.6 366.1 225.0 367.2 226.0C368.3 227.0 369.5 228.2 370.7 228.4C371.9 228.6 373.0 227.5 374.1 227.0C375.2 226.5 376.5 225.4 377.5 225.3C378.5 225.2 379.1 225.3 380.0 226.2C380.9 227.1 381.9 228.8 383.0 230.5C384.1 232.2 385.1 233.9 386.3 236.5C387.5 239.1 389.0 243.3 390.3 245.8C391.6 248.3 393.0 250.2 394.4 251.6C395.8 253.0 397.1 253.8 398.5 254.4C399.9 255.0 399.1 255.1 402.7 255.3C406.3 255.5 417.0 255.6 419.9 255.7" fill="none" stroke="#3f8ff0" stroke-width="1.45" stroke-linejoin="round"/>
<path d="M237.0 318.7L237.8 318.7L238.5 318.7L239.3 318.7L240.0 318.7L240.8 318.7L241.5 318.7L242.3 318.7L243.0 318.7L243.8 318.7L244.5 318.8L245.3 318.8L246.0 318.8L246.8 318.8L247.5 318.8L248.3 318.8L249.0 318.8L249.8 318.8L250.5 318.7L251.3 318.7L252.0 318.7L252.8 318.7L253.5 318.7L254.3 318.7L255.0 318.7L255.8 318.6L256.5 318.6L257.3 318.6L258.0 318.5L258.8 318.5L259.5 318.4L260.3 318.3L261.0 318.2L261.8 318.1L262.5 318.0L263.3 317.9L264.0 317.8L264.8 317.6L265.5 317.4L266.3 317.2L267.0 317.0L267.8 316.7L268.5 316.5L269.3 316.2L270.0 315.9L270.8 315.5L271.5 315.2L272.3 314.8L273.0 314.4L273.8 313.9L274.5 313.5L275.3 313.0L276.0 312.5L276.8 312.0L277.5 311.4L278.3 310.9L279.1 310.4L279.8 309.8L280.6 309.3L281.3 308.7L282.1 308.2L282.8 307.7L283.6 307.2L284.3 306.8L285.1 306.3L285.8 306.0L286.6 305.6L287.3 305.3L288.1 305.1L288.8 304.9L289.6 304.8L290.3 304.7L291.1 304.7L291.8 304.7L292.6 304.9L293.3 305.0L294.1 305.3L294.8 305.5L295.6 305.9L296.3 306.2L297.1 306.7L297.8 307.1L298.6 307.6L299.3 308.1L300.1 308.6L300.8 309.2L301.6 309.7L302.3 310.3L303.1 310.9L303.8 311.4L304.6 312.0L305.3 312.5L306.1 313.0L306.8 313.5L307.6 314.0L308.3 314.5L309.1 314.9L309.8 315.4L310.6 315.8L311.3 316.1L312.1 316.5L312.8 316.8L313.6 317.1L314.3 317.4L315.1 317.6L315.8 317.8L316.6 318.1L317.3 318.2L318.1 318.4L318.8 318.6L319.6 318.7L320.4 318.8L321.1 318.9L321.9 319.0L322.6 319.1L323.4 319.2L324.1 319.3L324.9 319.3L325.6 319.4L326.4 319.4L327.1 319.5L327.9 319.5L328.6 319.5L329.4 319.6L330.1 319.6L330.9 319.6L331.6 319.6L332.4 319.7L333.1 319.7L333.9 319.7L334.6 319.7L335.4 319.7L336.1 319.7L336.9 319.8L337.6 319.8L338.4 319.8L339.1 319.8L339.9 319.8L340.6 319.8L341.4 319.8L342.1 319.8L342.9 319.9L343.6 319.9L344.4 319.9L345.1 319.9L345.9 319.9L346.6 319.9L347.4 319.9L348.1 319.9L348.9 319.9L349.6 320.0L350.4 320.0L351.1 320.0L351.9 320.0L352.6 320.0L353.4 320.0L354.1 320.0L354.9 320.0L355.6 320.0L356.4 320.0L357.1 320.1L357.9 320.1L358.6 320.1L359.4 320.1L360.1 320.1L360.9 320.1L360.9 320.2L237.0 318.8Z" fill="url(#gPurpleE2)"/>
<path d="M237.0 318.7L237.7 318.7L238.5 318.7L239.2 318.7L240.0 318.7L240.7 318.7L241.5 318.7L242.2 318.7L243.0 318.7L243.7 318.7L244.5 318.7L245.2 318.7L246.0 318.7L246.7 318.7L247.5 318.8L248.2 318.8L249.0 318.8L249.7 318.8L250.5 318.8L251.2 318.8L252.0 318.8L252.7 318.8L253.5 318.8L254.2 318.8L255.0 318.8L255.7 318.8L256.5 318.8L257.2 318.8L258.0 318.8L258.7 318.8L259.5 318.8L260.2 318.8L261.0 318.7L261.7 318.7L262.5 318.7L263.2 318.7L264.0 318.7L264.7 318.7L265.5 318.6L266.2 318.6L267.0 318.5L267.7 318.5L268.5 318.4L269.2 318.3L270.0 318.3L270.7 318.2L271.4 318.0L272.2 317.9L272.9 317.8L273.7 317.6L274.4 317.4L275.2 317.2L275.9 316.9L276.7 316.6L277.4 316.3L278.2 315.9L278.9 315.5L279.7 315.1L280.4 314.6L281.2 314.1L281.9 313.5L282.7 312.9L283.4 312.3L284.2 311.6L284.9 310.8L285.7 310.0L286.4 309.2L287.2 308.3L287.9 307.4L288.7 306.4L289.4 305.5L290.2 304.5L290.9 303.5L291.7 302.4L292.4 301.4L293.2 300.4L293.9 299.4L294.7 298.4L295.4 297.5L296.2 296.6L296.9 295.8L297.7 295.0L298.4 294.3L299.2 293.7L299.9 293.1L300.7 292.7L301.4 292.4L302.2 292.1L302.9 292.0L303.7 292.0L304.4 292.2L305.1 292.4L305.9 292.7L306.6 293.2L307.4 293.7L308.1 294.3L308.9 295.1L309.6 295.8L310.4 296.7L311.1 297.6L311.9 298.6L312.6 299.5L313.4 300.6L314.1 301.6L314.9 302.6L315.6 303.7L316.4 304.7L317.1 305.7L317.9 306.7L318.6 307.7L319.4 308.6L320.1 309.5L320.9 310.3L321.6 311.2L322.4 311.9L323.1 312.7L323.9 313.3L324.6 314.0L325.4 314.6L326.1 315.1L326.9 315.6L327.6 316.0L328.4 316.5L329.1 316.8L329.9 317.2L330.6 317.5L331.4 317.8L332.1 318.0L332.9 318.2L333.6 318.4L334.4 318.6L335.1 318.7L335.9 318.9L336.6 319.0L337.4 319.1L338.1 319.2L338.9 319.3L339.6 319.3L340.3 319.4L341.1 319.4L341.8 319.5L342.6 319.5L343.3 319.6L344.1 319.6L344.8 319.6L345.6 319.7L346.3 319.7L347.1 319.7L347.8 319.7L348.6 319.8L349.3 319.8L350.1 319.8L350.8 319.8L351.6 319.8L352.3 319.8L353.1 319.9L353.8 319.9L354.6 319.9L355.3 319.9L356.1 319.9L356.8 319.9L357.6 319.9L358.3 320.0L359.1 320.0L359.8 320.0L360.6 320.0L361.3 320.0L362.1 320.0L362.8 320.0L363.6 320.0L364.3 320.1L365.1 320.1L365.8 320.1L366.6 320.1L367.3 320.1L368.1 320.1L368.8 320.1L369.6 320.1L370.3 320.1L371.1 320.2L371.8 320.2L372.6 320.2L373.3 320.2L373.3 320.3L237.0 318.8Z" fill="url(#gPurpleE)"/>
<path d="M302.3 319.4L303.0 319.4L303.8 319.5L304.5 319.5L305.3 319.5L306.0 319.5L306.8 319.5L307.5 319.5L308.3 319.5L309.0 319.5L309.8 319.5L310.5 319.5L311.3 319.5L312.0 319.5L312.8 319.5L313.5 319.5L314.3 319.5L315.0 319.5L315.8 319.5L316.5 319.5L317.3 319.5L318.0 319.5L318.7 319.5L319.5 319.4L320.2 319.4L321.0 319.4L321.7 319.3L322.5 319.2L323.2 319.1L324.0 319.0L324.7 318.9L325.5 318.6L326.2 318.4L327.0 318.1L327.7 317.7L328.5 317.2L329.2 316.7L330.0 316.1L330.7 315.3L331.5 314.5L332.2 313.6L333.0 312.6L333.7 311.5L334.4 310.4L335.2 309.2L335.9 308.0L336.7 306.8L337.4 305.7L338.2 304.6L338.9 303.6L339.7 302.8L340.4 302.1L341.2 301.7L341.9 301.5L342.7 301.5L343.4 301.7L344.2 302.2L344.9 302.8L345.7 303.7L346.4 304.7L347.2 305.8L347.9 306.9L348.7 308.1L349.4 309.4L350.2 310.6L350.9 311.7L351.6 312.8L352.4 313.8L353.1 314.8L353.9 315.6L354.6 316.3L355.4 317.0L356.1 317.5L356.9 318.0L357.6 318.4L358.4 318.7L359.1 319.0L359.9 319.2L360.6 319.4L361.4 319.6L362.1 319.7L362.9 319.8L363.6 319.8L364.4 319.9L365.1 319.9L365.9 320.0L366.6 320.0L367.3 320.0L368.1 320.1L368.8 320.1L369.6 320.1L370.3 320.1L371.1 320.1L371.8 320.1L372.6 320.2L373.3 320.2L374.1 320.2L374.8 320.2L375.6 320.2L376.3 320.2L377.1 320.2L377.8 320.2L378.6 320.3L379.3 320.3L380.1 320.3L380.8 320.3L381.6 320.3L382.3 320.3L382.3 320.4L302.3 319.5Z" fill="url(#gOrangeE2)"/>
<path d="M321.5 319.3L322.3 319.3L323.0 319.3L323.8 319.3L324.5 319.3L325.3 319.3L326.0 319.2L326.8 319.2L327.5 319.2L328.3 319.2L329.0 319.2L329.8 319.1L330.5 319.1L331.3 319.1L332.0 319.0L332.8 319.0L333.5 318.9L334.3 318.9L335.0 318.8L335.8 318.7L336.6 318.6L337.3 318.5L338.1 318.4L338.8 318.2L339.6 317.9L340.3 317.6L341.1 317.3L341.8 316.8L342.6 316.2L343.3 315.5L344.1 314.6L344.8 313.5L345.6 312.3L346.3 310.8L347.1 309.1L347.8 307.2L348.6 305.1L349.3 302.8L350.1 300.3L350.9 297.8L351.6 295.2L352.4 292.7L353.1 290.3L353.9 288.2L354.6 286.5L355.4 285.3L356.1 284.7L356.9 284.7L357.6 285.3L358.4 286.6L359.1 288.3L359.9 290.4L360.6 292.8L361.4 295.3L362.1 297.9L362.9 300.4L363.7 302.9L364.4 305.2L365.2 307.4L365.9 309.3L366.7 311.0L367.4 312.5L368.2 313.8L368.9 314.9L369.7 315.8L370.4 316.5L371.2 317.1L371.9 317.6L372.7 318.0L373.4 318.3L374.2 318.6L374.9 318.8L375.7 318.9L376.4 319.1L377.2 319.2L378.0 319.3L378.7 319.4L379.5 319.4L380.2 319.5L381.0 319.6L381.7 319.6L382.5 319.7L383.2 319.7L384.0 319.8L384.7 319.8L385.5 319.8L386.2 319.9L387.0 319.9L387.7 319.9L388.5 320.0L389.2 320.0L390.0 320.0L390.7 320.1L391.5 320.1L391.5 320.5L321.5 319.7Z" fill="url(#gOrangeE)"/>
<path d="M330.1 319.7L330.9 319.8L331.6 319.8L332.4 319.8L333.1 319.8L333.9 319.8L334.6 319.8L335.4 319.8L336.1 319.8L336.9 319.8L337.6 319.8L338.4 319.8L339.1 319.8L339.9 319.8L340.6 319.8L341.4 319.8L342.1 319.8L342.9 319.8L343.6 319.8L344.4 319.7L345.2 319.7L345.9 319.7L346.7 319.6L347.4 319.5L348.2 319.4L348.9 319.3L349.7 319.1L350.4 318.9L351.2 318.6L351.9 318.2L352.7 317.7L353.4 317.1L354.2 316.4L354.9 315.6L355.7 314.6L356.4 313.5L357.2 312.3L357.9 311.0L358.7 309.6L359.5 308.2L360.2 306.8L361.0 305.5L361.7 304.3L362.5 303.2L363.2 302.3L364.0 301.7L364.7 301.4L365.5 301.4L366.2 301.8L367.0 302.4L367.7 303.2L368.5 304.3L369.2 305.6L370.0 306.9L370.7 308.3L371.5 309.8L372.3 311.1L373.0 312.5L373.8 313.7L374.5 314.8L375.3 315.8L376.0 316.6L376.8 317.4L377.5 318.0L378.3 318.5L379.0 318.9L379.8 319.2L380.5 319.5L381.3 319.7L382.0 319.8L382.8 319.9L383.5 320.0L384.3 320.1L385.0 320.2L385.8 320.2L386.6 320.2L387.3 320.3L388.1 320.3L388.8 320.3L389.6 320.3L390.3 320.3L391.1 320.4L391.8 320.4L392.6 320.4L393.3 320.4L394.1 320.4L394.8 320.4L395.6 320.4L396.3 320.5L397.1 320.5L397.8 320.5L398.6 320.5L399.3 320.5L400.1 320.5L400.1 320.6L330.1 319.8Z" fill="url(#gBlueE2)"/>
<path d="M344.3 319.8L345.1 319.8L345.8 319.8L346.6 319.8L347.3 319.8L348.1 319.8L348.8 319.8L349.6 319.8L350.3 319.8L351.1 319.8L351.8 319.8L352.6 319.8L353.3 319.8L354.1 319.8L354.8 319.8L355.6 319.8L356.3 319.8L357.1 319.7L357.8 319.7L358.6 319.7L359.4 319.6L360.1 319.5L360.9 319.4L361.6 319.2L362.4 319.0L363.1 318.7L363.9 318.4L364.6 317.9L365.4 317.2L366.1 316.4L366.9 315.4L367.6 314.2L368.4 312.8L369.1 311.1L369.9 309.1L370.6 306.9L371.4 304.5L372.1 301.8L372.9 299.0L373.7 296.2L374.4 293.4L375.2 290.7L375.9 288.2L376.7 286.0L377.4 284.3L378.2 283.1L378.9 282.4L379.7 282.4L380.4 283.1L381.2 284.3L381.9 286.1L382.7 288.2L383.4 290.7L384.2 293.5L384.9 296.3L385.7 299.2L386.5 302.0L387.2 304.6L388.0 307.1L388.7 309.3L389.5 311.3L390.2 313.0L391.0 314.5L391.7 315.7L392.5 316.7L393.2 317.5L394.0 318.2L394.7 318.7L395.5 319.1L396.2 319.4L397.0 319.6L397.7 319.8L398.5 319.9L399.2 320.0L400.0 320.1L400.8 320.2L401.5 320.2L402.3 320.3L403.0 320.3L403.8 320.3L404.5 320.4L405.3 320.4L406.0 320.4L406.8 320.4L407.5 320.4L408.3 320.5L409.0 320.5L409.8 320.5L410.5 320.5L411.3 320.5L412.0 320.5L412.8 320.6L413.5 320.6L414.3 320.6L414.3 320.7L344.3 320.0Z" fill="url(#gBlueE)"/>
<path d="M237.0 318.7L237.8 318.7L238.5 318.7L239.3 318.7L240.0 318.7L240.8 318.7L241.5 318.7L242.3 318.7L243.0 318.7L243.8 318.7L244.5 318.8L245.3 318.8L246.0 318.8L246.8 318.8L247.5 318.8L248.3 318.8L249.0 318.8L249.8 318.8L250.5 318.7L251.3 318.7L252.0 318.7L252.8 318.7L253.5 318.7L254.3 318.7L255.0 318.7L255.8 318.6L256.5 318.6L257.3 318.6L258.0 318.5L258.8 318.5L259.5 318.4L260.3 318.3L261.0 318.2L261.8 318.1L262.5 318.0L263.3 317.9L264.0 317.8L264.8 317.6L265.5 317.4L266.3 317.2L267.0 317.0L267.8 316.7L268.5 316.5L269.3 316.2L270.0 315.9L270.8 315.5L271.5 315.2L272.3 314.8L273.0 314.4L273.8 313.9L274.5 313.5L275.3 313.0L276.0 312.5L276.8 312.0L277.5 311.4L278.3 310.9L279.1 310.4L279.8 309.8L280.6 309.3L281.3 308.7L282.1 308.2L282.8 307.7L283.6 307.2L284.3 306.8L285.1 306.3L285.8 306.0L286.6 305.6L287.3 305.3L288.1 305.1L288.8 304.9L289.6 304.8L290.3 304.7L291.1 304.7L291.8 304.7L292.6 304.9L293.3 305.0L294.1 305.3L294.8 305.5L295.6 305.9L296.3 306.2L297.1 306.7L297.8 307.1L298.6 307.6L299.3 308.1L300.1 308.6L300.8 309.2L301.6 309.7L302.3 310.3L303.1 310.9L303.8 311.4L304.6 312.0L305.3 312.5L306.1 313.0L306.8 313.5L307.6 314.0L308.3 314.5L309.1 314.9L309.8 315.4L310.6 315.8L311.3 316.1L312.1 316.5L312.8 316.8L313.6 317.1L314.3 317.4L315.1 317.6L315.8 317.8L316.6 318.1L317.3 318.2L318.1 318.4L318.8 318.6L319.6 318.7L320.4 318.8L321.1 318.9L321.9 319.0L322.6 319.1L323.4 319.2L324.1 319.3L324.9 319.3L325.6 319.4L326.4 319.4L327.1 319.5L327.9 319.5L328.6 319.5L329.4 319.6L330.1 319.6L330.9 319.6L331.6 319.6L332.4 319.7L333.1 319.7L333.9 319.7L334.6 319.7L335.4 319.7L336.1 319.7L336.9 319.8L337.6 319.8L338.4 319.8L339.1 319.8L339.9 319.8L340.6 319.8L341.4 319.8L342.1 319.8L342.9 319.9L343.6 319.9L344.4 319.9L345.1 319.9L345.9 319.9L346.6 319.9L347.4 319.9L348.1 319.9L348.9 319.9L349.6 320.0L350.4 320.0L351.1 320.0L351.9 320.0L352.6 320.0L353.4 320.0L354.1 320.0L354.9 320.0L355.6 320.0L356.4 320.0L357.1 320.1L357.9 320.1L358.6 320.1L359.4 320.1L360.1 320.1L360.9 320.1" fill="none" stroke="#8c72c0" stroke-width="1" stroke-dasharray="2,1.6"/>
<path d="M302.3 319.4L303.0 319.4L303.8 319.5L304.5 319.5L305.3 319.5L306.0 319.5L306.8 319.5L307.5 319.5L308.3 319.5L309.0 319.5L309.8 319.5L310.5 319.5L311.3 319.5L312.0 319.5L312.8 319.5L313.5 319.5L314.3 319.5L315.0 319.5L315.8 319.5L316.5 319.5L317.3 319.5L318.0 319.5L318.7 319.5L319.5 319.4L320.2 319.4L321.0 319.4L321.7 319.3L322.5 319.2L323.2 319.1L324.0 319.0L324.7 318.9L325.5 318.6L326.2 318.4L327.0 318.1L327.7 317.7L328.5 317.2L329.2 316.7L330.0 316.1L330.7 315.3L331.5 314.5L332.2 313.6L333.0 312.6L333.7 311.5L334.4 310.4L335.2 309.2L335.9 308.0L336.7 306.8L337.4 305.7L338.2 304.6L338.9 303.6L339.7 302.8L340.4 302.1L341.2 301.7L341.9 301.5L342.7 301.5L343.4 301.7L344.2 302.2L344.9 302.8L345.7 303.7L346.4 304.7L347.2 305.8L347.9 306.9L348.7 308.1L349.4 309.4L350.2 310.6L350.9 311.7L351.6 312.8L352.4 313.8L353.1 314.8L353.9 315.6L354.6 316.3L355.4 317.0L356.1 317.5L356.9 318.0L357.6 318.4L358.4 318.7L359.1 319.0L359.9 319.2L360.6 319.4L361.4 319.6L362.1 319.7L362.9 319.8L363.6 319.8L364.4 319.9L365.1 319.9L365.9 320.0L366.6 320.0L367.3 320.0L368.1 320.1L368.8 320.1L369.6 320.1L370.3 320.1L371.1 320.1L371.8 320.1L372.6 320.2L373.3 320.2L374.1 320.2L374.8 320.2L375.6 320.2L376.3 320.2L377.1 320.2L377.8 320.2L378.6 320.3L379.3 320.3L380.1 320.3L380.8 320.3L381.6 320.3L382.3 320.3" fill="none" stroke="#dfa060" stroke-width="1" stroke-dasharray="2,1.6"/>
<path d="M330.1 319.7L330.9 319.8L331.6 319.8L332.4 319.8L333.1 319.8L333.9 319.8L334.6 319.8L335.4 319.8L336.1 319.8L336.9 319.8L337.6 319.8L338.4 319.8L339.1 319.8L339.9 319.8L340.6 319.8L341.4 319.8L342.1 319.8L342.9 319.8L343.6 319.8L344.4 319.7L345.2 319.7L345.9 319.7L346.7 319.6L347.4 319.5L348.2 319.4L348.9 319.3L349.7 319.1L350.4 318.9L351.2 318.6L351.9 318.2L352.7 317.7L353.4 317.1L354.2 316.4L354.9 315.6L355.7 314.6L356.4 313.5L357.2 312.3L357.9 311.0L358.7 309.6L359.5 308.2L360.2 306.8L361.0 305.5L361.7 304.3L362.5 303.2L363.2 302.3L364.0 301.7L364.7 301.4L365.5 301.4L366.2 301.8L367.0 302.4L367.7 303.2L368.5 304.3L369.2 305.6L370.0 306.9L370.7 308.3L371.5 309.8L372.3 311.1L373.0 312.5L373.8 313.7L374.5 314.8L375.3 315.8L376.0 316.6L376.8 317.4L377.5 318.0L378.3 318.5L379.0 318.9L379.8 319.2L380.5 319.5L381.3 319.7L382.0 319.8L382.8 319.9L383.5 320.0L384.3 320.1L385.0 320.2L385.8 320.2L386.6 320.2L387.3 320.3L388.1 320.3L388.8 320.3L389.6 320.3L390.3 320.3L391.1 320.4L391.8 320.4L392.6 320.4L393.3 320.4L394.1 320.4L394.8 320.4L395.6 320.4L396.3 320.5L397.1 320.5L397.8 320.5L398.6 320.5L399.3 320.5L400.1 320.5" fill="none" stroke="#4a82c6" stroke-width="1" stroke-dasharray="2,1.6"/>
<path d="M237.0 318.8L419.9 320.8" fill="none" stroke="#e89090" stroke-width="1" stroke-dasharray="2,1.5"/>
<path d="M237.0 318.8C240.0 318.8 251.2 318.7 255.0 318.5C258.8 318.3 258.3 318.0 260.0 317.6C261.7 317.2 263.1 316.8 265.0 315.9C266.9 315.0 269.1 314.0 271.2 312.2C273.3 310.4 275.3 308.0 277.4 305.3C279.5 302.6 281.5 299.0 283.6 296.0C285.7 293.0 287.7 289.8 289.8 287.4C291.9 285.0 294.2 282.9 296.0 281.8C297.8 280.7 298.9 280.3 300.4 280.7C301.9 281.1 303.2 281.9 305.0 284.2C306.8 286.5 309.1 290.9 311.2 294.3C313.3 297.7 315.3 302.1 317.4 304.8C319.4 307.5 321.7 309.2 323.5 310.3C325.3 311.4 326.6 311.6 328.2 311.3C329.8 311.0 331.1 310.2 332.8 308.6C334.5 307.0 336.3 303.9 338.1 301.5C339.9 299.1 341.8 297.0 343.6 294.3C345.4 291.6 347.5 288.6 349.1 285.5C350.7 282.4 352.1 278.3 353.4 276.0C354.7 273.7 355.9 272.4 356.9 271.5C357.9 270.6 357.9 269.8 359.2 270.3C360.5 270.8 362.7 272.9 364.6 274.7C366.5 276.5 368.6 280.8 370.8 281.3C373.0 281.8 375.7 277.7 377.6 277.6C379.5 277.5 380.8 278.8 382.1 280.6C383.4 282.4 384.2 284.9 385.2 288.2C386.2 291.5 387.2 296.8 388.2 300.3C389.2 303.8 390.2 306.9 391.2 309.4C392.2 311.9 392.9 313.9 394.2 315.5C395.5 317.1 396.5 318.4 398.8 319.2C401.1 320.0 404.4 320.0 407.9 320.3C411.4 320.6 417.7 320.7 419.7 320.8" fill="none" stroke="#d81f24" stroke-width="1.6" stroke-linejoin="round"/>
<text x="276.6" y="282.9" font-size="10" fill="#9a70c8" stroke="#9a70c8" stroke-width="0" text-anchor="middle" font-family="Liberation Sans" font-weight="bold">O=S=O</text>
<line x1="277" y1="270.8" x2="277" y2="273.4" stroke="#9a6fc8" stroke-width="0.8"/>
<line x1="277" y1="284.8" x2="277" y2="287.4" stroke="#9a6fc8" stroke-width="0.8"/>
<text x="341.5" y="281.6" font-size="9.6" fill="#e8874e" stroke="#e8874e" stroke-width="0" text-anchor="middle" font-family="Liberation Sans" font-weight="bold">S=P</text>
<text x="392.4" y="285.4" font-size="9.6" fill="#3a7ad0" stroke="#3a7ad0" stroke-width="0" text-anchor="middle" font-family="Liberation Sans" font-weight="bold">-S-</text>
<rect x="237.0" y="183.1" width="182.70" height="150.40" fill="none" stroke="#2b2b2b" stroke-width="1.5"/>
<line x1="237.20" y1="333.5" x2="237.20" y2="331.5" stroke="#2b2b2b" stroke-width="1.2"/>
<line x1="260.00" y1="333.5" x2="260.00" y2="330.2" stroke="#2b2b2b" stroke-width="1.2"/>
<line x1="282.80" y1="333.5" x2="282.80" y2="331.5" stroke="#2b2b2b" stroke-width="1.2"/>
<line x1="305.60" y1="333.5" x2="305.60" y2="330.2" stroke="#2b2b2b" stroke-width="1.2"/>
<line x1="328.40" y1="333.5" x2="328.40" y2="331.5" stroke="#2b2b2b" stroke-width="1.2"/>
<line x1="351.20" y1="333.5" x2="351.20" y2="330.2" stroke="#2b2b2b" stroke-width="1.2"/>
<line x1="374.00" y1="333.5" x2="374.00" y2="331.5" stroke="#2b2b2b" stroke-width="1.2"/>
<line x1="396.80" y1="333.5" x2="396.80" y2="330.2" stroke="#2b2b2b" stroke-width="1.2"/>
<line x1="419.60" y1="333.5" x2="419.60" y2="331.5" stroke="#2b2b2b" stroke-width="1.2"/>
<text x="237.20" y="345.7" font-size="8.4" fill="#111" stroke="#111" stroke-width="0.3" text-anchor="middle" font-family="Liberation Sans" font-weight="bold">174</text>
<text x="282.80" y="345.7" font-size="8.4" fill="#111" stroke="#111" stroke-width="0.3" text-anchor="middle" font-family="Liberation Sans" font-weight="bold">170</text>
<text x="328.40" y="345.7" font-size="8.4" fill="#111" stroke="#111" stroke-width="0.3" text-anchor="middle" font-family="Liberation Sans" font-weight="bold">166</text>
<text x="374.00" y="345.7" font-size="8.4" fill="#111" stroke="#111" stroke-width="0.3" text-anchor="middle" font-family="Liberation Sans" font-weight="bold">162</text>
<text x="419.60" y="345.7" font-size="8.4" fill="#111" stroke="#111" stroke-width="0.3" text-anchor="middle" font-family="Liberation Sans" font-weight="bold">158</text>
<text x="328.9" y="358.8" font-size="9.8" fill="#111" stroke="#111" stroke-width="0.3" text-anchor="middle" font-family="Liberation Sans" font-weight="bold">Binding Energy (eV)</text>
<text x="227.4" y="254.0" font-size="9.9" fill="#111" stroke="#111" stroke-width="0.3" text-anchor="middle" font-family="Liberation Sans" font-weight="bold" transform="rotate(-90 227.4 254.0)">Intensity (a.u.)</text>
<text x="435.8" y="189.8" font-size="18.5" fill="#000" stroke="#000" stroke-width="0" text-anchor="start" font-family="Liberation Sans" font-weight="bold">f</text>
<text x="459.0" y="199.0" font-size="10" fill="#111" stroke="#111" stroke-width="0.3" text-anchor="start" font-family="Liberation Sans" font-weight="bold">1-Li 1s</text>
<path d="M506.6 249.3L507.3 249.1L508.0 248.8L508.7 248.6L509.5 248.3L510.3 248.1L511.1 247.8L511.9 247.5L512.7 247.2L513.4 246.9L514.2 246.6L514.9 246.3L515.6 246.0L516.2 245.8L516.8 245.6L517.4 245.3L518.0 245.0L518.6 244.7L519.3 244.3L520.0 243.8L520.8 243.2L521.6 242.5L522.5 241.7L523.3 240.9L524.2 240.0L525.1 239.1L526.0 238.2L526.9 237.2L527.8 236.2L528.6 235.1L529.5 234.0L530.4 232.9L531.2 231.7L532.1 230.5L532.9 229.4L533.8 228.2L534.7 227.0L535.5 225.8L536.4 224.6L537.3 223.4L538.1 222.1L539.0 220.9L539.8 219.7L540.7 218.6L541.6 217.5L542.4 216.4L543.3 215.3L544.1 214.2L544.9 213.2L545.8 212.2L546.6 211.2L547.5 210.3L548.4 209.4L549.2 208.6L550.1 207.8L551.0 207.1L551.8 206.4L552.7 205.7L553.6 205.1L554.4 204.6L555.2 204.1L556.0 203.7L556.8 203.4L557.6 203.0L558.5 202.8L559.3 202.6L560.1 202.6L561.0 202.6L561.9 202.7L562.9 203.0L563.9 203.3L564.9 203.7L565.9 204.1L566.9 204.6L567.9 205.2L568.8 205.8L569.7 206.5L570.6 207.2L571.5 208.0L572.3 208.8L573.2 209.7L574.0 210.6L574.8 211.6L575.7 212.5L576.6 213.5L577.4 214.5L578.3 215.6L579.1 216.7L579.9 217.8L580.8 218.9L581.6 220.0L582.5 221.0L583.4 222.0L584.2 223.0L585.1 224.0L585.9 224.9L586.8 225.8L587.7 226.7L588.5 227.5L589.4 228.3L590.3 229.0L591.1 229.7L592.0 230.3L592.9 230.8L593.7 231.3L594.6 231.8L595.4 232.3L596.3 232.7L597.2 233.1L598.0 233.4L598.9 233.8L599.7 234.0L600.6 234.3L601.5 234.5L602.3 234.7L603.2 234.9L604.0 235.1L604.8 235.2L605.5 235.3L606.2 235.4L607.0 235.5L607.9 235.5L608.9 235.5L610.1 235.5L611.5 235.4L613.0 235.3L614 235L506 249.3Z" fill="url(#gPurpleF)"/>
<path d="M453.5 258.2C455.5 257.8 461.3 256.7 465.4 256.0C469.4 255.3 473.7 254.7 477.8 254.1C481.9 253.5 486.1 253.0 490.2 252.4C494.3 251.8 499.4 250.9 502.5 250.3C505.6 249.7 506.6 249.3 508.7 248.6C510.8 247.9 513.0 247.1 514.9 246.3C516.8 245.5 518.0 245.3 520.0 243.8C522.0 242.3 524.6 239.8 526.9 237.2C529.2 234.6 531.5 231.3 533.8 228.2C536.1 225.1 538.4 221.6 540.7 218.6C543.0 215.6 545.2 212.6 547.5 210.3C549.8 208.0 552.1 205.9 554.4 204.6C556.6 203.3 558.6 202.4 561.0 202.6C563.4 202.8 566.3 204.2 568.8 205.8C571.2 207.5 573.4 210.0 575.7 212.5C578.0 215.0 580.2 218.4 582.5 221.0C584.8 223.6 587.1 226.4 589.4 228.3C591.7 230.2 594.0 231.6 596.3 232.7C598.6 233.8 600.9 234.4 603.2 234.9C605.5 235.4 606.7 235.6 610.1 235.5C613.5 235.4 619.0 234.7 623.9 234.1C628.8 233.5 636.8 232.3 639.4 232.0" fill="none" stroke="#4b95e6" stroke-width="1.4" stroke-linejoin="round"/>
<line x1="506" y1="249.3" x2="614" y2="235" stroke="#a8cdf0" stroke-width="0.9"/>
<path d="M505.4 316.2L506.5 315.9L507.5 315.7L508.5 315.4L509.3 315.1L510.1 314.9L510.9 314.6L511.6 314.3L512.2 314.1L512.7 313.9L513.1 313.7L513.5 313.4L513.9 313.1L514.4 312.8L515.0 312.4L515.7 311.9L516.4 311.4L517.2 310.8L518.0 310.2L518.8 309.5L519.6 308.8L520.4 308.1L521.2 307.4L522.0 306.7L522.8 306.0L523.5 305.2L524.3 304.4L525.1 303.6L525.8 302.8L526.6 302.0L527.4 301.2L528.2 300.4L528.9 299.5L529.7 298.7L530.5 297.9L531.3 297.0L532.0 296.1L532.8 295.2L533.6 294.3L534.4 293.3L535.2 292.3L535.9 291.3L536.7 290.3L537.5 289.2L538.2 288.2L539.0 287.2L539.8 286.3L540.6 285.4L541.3 284.5L542.1 283.7L542.9 282.9L543.7 282.0L544.5 281.3L545.2 280.5L546.0 279.8L546.8 279.1L547.6 278.4L548.4 277.7L549.2 277.1L550.0 276.5L550.8 276.0L551.5 275.4L552.2 275.0L552.8 274.6L553.4 274.3L554.0 274.0L554.5 273.8L555.0 273.6L555.5 273.4L556.0 273.3L556.5 273.1L557.0 273.0L557.5 272.8L557.9 272.7L558.4 272.6L558.9 272.6L559.4 272.5L559.9 272.5L560.5 272.6L561.1 272.7L561.8 272.8L562.5 273.0L563.2 273.2L564.0 273.4L564.7 273.7L565.5 274.0L566.2 274.4L567.0 274.8L567.7 275.3L568.5 275.7L569.3 276.3L570.1 276.9L570.8 277.5L571.6 278.1L572.4 278.8L573.2 279.5L573.9 280.3L574.7 281.2L575.5 282.1L576.3 283.0L577.0 283.9L577.8 284.8L578.6 285.7L579.4 286.6L580.2 287.5L580.9 288.5L581.7 289.4L582.5 290.4L583.2 291.3L584.0 292.3L584.8 293.2L585.6 294.1L586.3 295.0L587.1 296.0L587.9 296.9L588.7 297.8L589.5 298.6L590.2 299.4L591.0 300.2L591.8 300.9L592.6 301.6L593.3 302.3L594.1 302.9L594.9 303.5L595.7 304.1L596.4 304.6L597.2 305.1L598.0 305.6L598.7 306.0L599.5 306.4L600.3 306.8L601.0 307.2L601.8 307.5L602.6 307.8L603.3 308.2L604.0 308.6L604.7 308.9L605.4 309.2L606.1 309.6L606.8 309.9L607.5 310.2L608.2 310.5L609.0 310.8L609.8 311.1L610.5 311.4L611.3 311.6L612.1 311.9L613.0 312.2L613.8 312.4L614.7 312.6L615.6 312.8L616.5 313.0L617.4 313.1L618.3 313.3L619.2 313.4L620.2 313.5L621.3 313.6L622 314.6L505 318.6Z" fill="url(#gPurpleF)"/>
<path d="M453.5 320.9C456.2 320.7 464.1 319.9 469.5 319.5C474.9 319.1 480.6 318.9 486.1 318.4C491.6 317.9 498.5 317.3 502.6 316.7C506.7 316.1 508.8 315.3 510.9 314.6C513.0 313.9 513.3 313.6 515.0 312.4C516.7 311.2 519.1 309.3 521.2 307.4C523.3 305.5 525.3 303.4 527.4 301.2C529.5 299.0 531.5 296.8 533.6 294.3C535.7 291.8 537.7 288.7 539.8 286.3C541.9 283.9 543.9 281.7 546.0 279.8C548.1 277.9 550.5 276.1 552.2 275.0C554.0 273.9 555.1 273.5 556.5 273.1C557.9 272.7 558.9 272.4 560.5 272.6C562.1 272.8 564.2 273.4 566.2 274.4C568.2 275.4 570.3 276.9 572.4 278.8C574.5 280.7 576.5 283.3 578.6 285.7C580.7 288.1 582.7 290.8 584.8 293.2C586.9 295.6 588.9 298.2 591.0 300.2C593.1 302.2 595.2 303.8 597.2 305.1C599.2 306.4 601.3 307.2 603.3 308.2C605.3 309.1 607.0 310.0 609.0 310.8C611.0 311.6 613.1 312.3 615.6 312.8C618.1 313.3 619.9 313.5 623.9 313.7C627.9 313.9 636.8 313.8 639.4 313.8" fill="none" stroke="#d81f24" stroke-width="1.7" stroke-linejoin="round"/>
<line x1="505" y1="318.6" x2="622" y2="314.6" stroke="#eaa8a8" stroke-width="0.9"/>
<text x="581.0" y="273.6" font-size="9.2" fill="#9470c6" stroke="#9470c6" stroke-width="0" text-anchor="middle" font-family="Liberation Sans" font-weight="bold">Li-S</text>
<rect x="453.5" y="185.0" width="185.90" height="149.30" fill="none" stroke="#2b2b2b" stroke-width="1.5"/>
<line x1="454.00" y1="334.3" x2="454.00" y2="331.0" stroke="#2b2b2b" stroke-width="1.2"/>
<line x1="477.12" y1="334.3" x2="477.12" y2="332.3" stroke="#2b2b2b" stroke-width="1.2"/>
<line x1="500.24" y1="334.3" x2="500.24" y2="331.0" stroke="#2b2b2b" stroke-width="1.2"/>
<line x1="523.36" y1="334.3" x2="523.36" y2="332.3" stroke="#2b2b2b" stroke-width="1.2"/>
<line x1="546.48" y1="334.3" x2="546.48" y2="331.0" stroke="#2b2b2b" stroke-width="1.2"/>
<line x1="569.60" y1="334.3" x2="569.60" y2="332.3" stroke="#2b2b2b" stroke-width="1.2"/>
<line x1="592.72" y1="334.3" x2="592.72" y2="331.0" stroke="#2b2b2b" stroke-width="1.2"/>
<line x1="615.84" y1="334.3" x2="615.84" y2="332.3" stroke="#2b2b2b" stroke-width="1.2"/>
<line x1="638.96" y1="334.3" x2="638.96" y2="331.0" stroke="#2b2b2b" stroke-width="1.2"/>
<text x="454.00" y="345.6" font-size="8.2" fill="#111" stroke="#111" stroke-width="0.3" text-anchor="middle" font-family="Liberation Sans" font-weight="bold">60</text>
<text x="500.24" y="345.6" font-size="8.2" fill="#111" stroke="#111" stroke-width="0.3" text-anchor="middle" font-family="Liberation Sans" font-weight="bold">58</text>
<text x="546.48" y="345.6" font-size="8.2" fill="#111" stroke="#111" stroke-width="0.3" text-anchor="middle" font-family="Liberation Sans" font-weight="bold">56</text>
<text x="592.72" y="345.6" font-size="8.2" fill="#111" stroke="#111" stroke-width="0.3" text-anchor="middle" font-family="Liberation Sans" font-weight="bold">54</text>
<text x="638.96" y="345.6" font-size="8.2" fill="#111" stroke="#111" stroke-width="0.3" text-anchor="middle" font-family="Liberation Sans" font-weight="bold">52</text>
<text x="546.5" y="357.0" font-size="9.7" fill="#111" stroke="#111" stroke-width="0.3" text-anchor="middle" font-family="Liberation Sans" font-weight="bold">Binding Energy (eV)</text>
<text x="445.4" y="256.5" font-size="9.7" fill="#111" stroke="#111" stroke-width="0.3" text-anchor="middle" font-family="Liberation Sans" font-weight="bold" transform="rotate(-90 445.4 256.5)">Intensity (a.u.)</text>
<g fill="none" stroke="#dae8f8" stroke-width="0.6"><circle cx="458.6" cy="230.6" r="1.3"/><circle cx="461.7" cy="235.5" r="1.3"/><circle cx="466.6" cy="237.4" r="1.3"/><circle cx="463.5" cy="242.3" r="1.3"/><circle cx="470.3" cy="243.6" r="1.3"/><circle cx="479.6" cy="242.3" r="1.3"/><circle cx="482.7" cy="230.0" r="1.3"/><circle cx="487.7" cy="243.0" r="1.3"/><circle cx="492.6" cy="243.6" r="1.3"/><circle cx="496.3" cy="241.1" r="1.3"/><circle cx="474.0" cy="251.6" r="1.3"/><circle cx="476.5" cy="252.9" r="1.3"/><circle cx="503.2" cy="247.3" r="1.3"/><circle cx="500.7" cy="255.3" r="1.3"/><circle cx="505.6" cy="232.4" r="1.3"/><circle cx="514.3" cy="237.4" r="1.3"/><circle cx="521.7" cy="238.6" r="1.3"/><circle cx="528.5" cy="228.7" r="1.3"/><circle cx="531.0" cy="230.0" r="1.3"/><circle cx="456.7" cy="239.2" r="1.3"/><circle cx="510.3" cy="215.2" r="1.3"/><circle cx="507.6" cy="220.7" r="1.3"/><circle cx="512.4" cy="221.4" r="1.3"/><circle cx="505.5" cy="232.1" r="1.3"/><circle cx="526.2" cy="217.3" r="1.3"/><circle cx="524.1" cy="221.4" r="1.3"/><circle cx="533.0" cy="220.0" r="1.3"/><circle cx="535.1" cy="223.5" r="1.3"/><circle cx="529.6" cy="229.0" r="1.3"/><circle cx="542.7" cy="215.9" r="1.3"/><circle cx="565.4" cy="200.8" r="1.3"/><circle cx="602.5" cy="203.5" r="1.3"/><circle cx="605.3" cy="208.3" r="1.3"/><circle cx="621.8" cy="215.2" r="1.3"/><circle cx="624.5" cy="200.8" r="1.3"/><circle cx="628.7" cy="208.3" r="1.3"/><circle cx="616.3" cy="220.0" r="1.3"/><circle cx="619.0" cy="222.8" r="1.3"/><circle cx="614.2" cy="224.9" r="1.3"/><circle cx="600.4" cy="222.8" r="1.3"/><circle cx="630.7" cy="221.4" r="1.3"/><circle cx="633.5" cy="227.6" r="1.3"/><circle cx="607.3" cy="239.3" r="1.3"/><circle cx="591.5" cy="242.1" r="1.3"/><circle cx="579.8" cy="246.9" r="1.3"/></g>
<g fill="none" stroke="#f5d0d0" stroke-width="0.6"><circle cx="457.1" cy="309.6" r="1.3"/><circle cx="459.6" cy="311.3" r="1.3"/><circle cx="462.9" cy="312.9" r="1.3"/><circle cx="465.4" cy="317.9" r="1.3"/><circle cx="476.1" cy="315.4" r="1.3"/><circle cx="482.8" cy="320.4" r="1.3"/><circle cx="489.4" cy="313.8" r="1.3"/><circle cx="496.0" cy="313.8" r="1.3"/><circle cx="500.9" cy="310.5" r="1.3"/><circle cx="505.1" cy="322.9" r="1.3"/><circle cx="509.2" cy="312.1" r="1.3"/><circle cx="515.8" cy="308.8" r="1.3"/><circle cx="519.9" cy="302.2" r="1.3"/><circle cx="550.6" cy="271.6" r="1.3"/><circle cx="565.5" cy="266.7" r="1.3"/><circle cx="570.4" cy="272.4" r="1.3"/><circle cx="538.2" cy="287.3" r="1.3"/><circle cx="535.7" cy="293.1" r="1.3"/><circle cx="521.7" cy="302.2" r="1.3"/><circle cx="596.0" cy="300.5" r="1.3"/><circle cx="604.0" cy="304.7" r="1.3"/><circle cx="613.9" cy="308.0" r="1.3"/><circle cx="623.0" cy="295.6" r="1.3"/><circle cx="621.4" cy="303.0" r="1.3"/><circle cx="626.3" cy="306.3" r="1.3"/><circle cx="630.5" cy="309.6" r="1.3"/><circle cx="632.9" cy="303.8" r="1.3"/><circle cx="636.2" cy="306.3" r="1.3"/><circle cx="637.9" cy="303.0" r="1.3"/></g>
<g fill="none" stroke="#f5d0d0" stroke-width="0.6"><circle cx="23.7" cy="311.0" r="1.3"/><circle cx="29.9" cy="316.6" r="1.3"/><circle cx="36.1" cy="309.2" r="1.3"/><circle cx="38.6" cy="310.4" r="1.3"/><circle cx="43.6" cy="318.5" r="1.3"/><circle cx="48.5" cy="311.0" r="1.3"/><circle cx="53.5" cy="311.6" r="1.3"/><circle cx="58.5" cy="312.9" r="1.3"/><circle cx="62.2" cy="308.5" r="1.3"/><circle cx="66.5" cy="309.2" r="1.3"/><circle cx="69.6" cy="306.1" r="1.3"/><circle cx="75.2" cy="316.0" r="1.3"/><circle cx="87.6" cy="301.1" r="1.3"/><circle cx="168.4" cy="309.8" r="1.3"/><circle cx="177.1" cy="311.0" r="1.3"/><circle cx="184.6" cy="316.6" r="1.3"/><circle cx="194.5" cy="310.4" r="1.3"/><circle cx="201.9" cy="310.4" r="1.3"/><circle cx="125.0" cy="263.9" r="1.3"/><circle cx="132.0" cy="264.5" r="1.3"/><circle cx="136.5" cy="268.8" r="1.3"/><circle cx="93.0" cy="292.0" r="1.3"/><circle cx="80.0" cy="303.0" r="1.3"/></g>
<g fill="none" stroke="#dae8f8" stroke-width="0.6"><circle cx="244.0" cy="254.0" r="1.3"/><circle cx="256.0" cy="252.5" r="1.3"/><circle cx="262.0" cy="252.0" r="1.3"/><circle cx="282.0" cy="236.0" r="1.3"/><circle cx="298.0" cy="225.5" r="1.3"/><circle cx="314.0" cy="241.0" r="1.3"/><circle cx="333.0" cy="246.0" r="1.3"/><circle cx="350.0" cy="229.0" r="1.3"/><circle cx="361.0" cy="220.0" r="1.3"/><circle cx="372.0" cy="221.0" r="1.3"/><circle cx="378.0" cy="222.0" r="1.3"/><circle cx="393.0" cy="250.0" r="1.3"/><circle cx="405.0" cy="254.0" r="1.3"/><circle cx="413.0" cy="253.0" r="1.3"/></g>
<g fill="none" stroke="#f5d0d0" stroke-width="0.6"><circle cx="243.0" cy="316.0" r="1.3"/><circle cx="255.0" cy="315.0" r="1.3"/><circle cx="265.0" cy="313.5" r="1.3"/><circle cx="283.0" cy="294.0" r="1.3"/><circle cx="297.0" cy="278.0" r="1.3"/><circle cx="316.0" cy="301.0" r="1.3"/><circle cx="335.0" cy="303.0" r="1.3"/><circle cx="344.0" cy="289.0" r="1.3"/><circle cx="358.0" cy="268.0" r="1.3"/><circle cx="362.0" cy="271.0" r="1.3"/><circle cx="371.0" cy="277.0" r="1.3"/><circle cx="380.0" cy="274.0" r="1.3"/><circle cx="388.0" cy="303.0" r="1.3"/><circle cx="403.0" cy="318.0" r="1.3"/><circle cx="414.0" cy="318.5" r="1.3"/></g></svg></body></html>
